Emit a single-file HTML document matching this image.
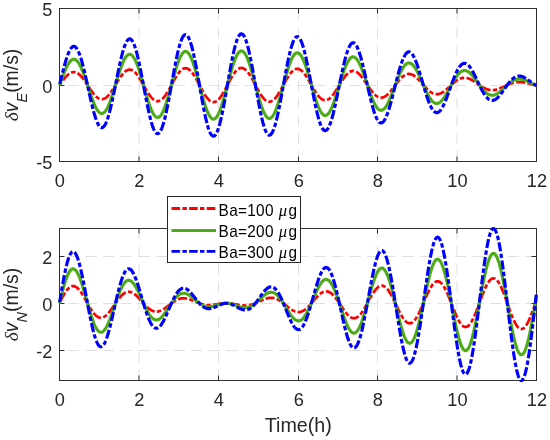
<!DOCTYPE html><html><head><meta charset="utf-8"><style>
html,body{margin:0;padding:0;background:#fff;}
body{width:550px;height:440px;overflow:hidden;}
svg{display:block;}
text{font-family:"Liberation Sans",sans-serif;fill:#262626;}
.tl{font-size:18.2px;}
.yl{font-size:19.4px;}
.xl{font-size:19.7px;}
.lt{font-size:16.2px;fill:#000;}
.it{font-style:italic;}
.gk{font-family:"Liberation Serif",serif;font-style:italic;}
.sub{font-size:0.75em;}
.mu{font-family:"Liberation Serif",serif;font-style:italic;font-size:16.5px;}
.ax{fill:none;stroke:#2e2e2e;stroke-width:1;}
.tk{stroke:#2e2e2e;stroke-width:1;}
.grid{stroke:#e0e0e0;stroke-width:1;stroke-dasharray:11 6.6;}
.cr{fill:none;stroke:#ff0000;stroke-width:2.7;stroke-dasharray:9 2.33 4.37 2.33;stroke-dashoffset:-1.1;}
.cg{fill:none;stroke:#4dac16;stroke-width:3.1;}
.cb{fill:none;stroke:#0000ff;stroke-width:3.15;stroke-dasharray:9 2.33 4.37 2.33;stroke-dashoffset:-1.1;}
.lg{fill:#fff;stroke:#262626;stroke-width:1;}
.lgl{stroke-width:2.9;stroke-dasharray:8.6 2.3 4.4 2.3;stroke-dashoffset:0;}
.cg.lgl{stroke-dasharray:none;}
</style></head><body>
<svg width="550" height="440" viewBox="0 0 550 440">
<defs><clipPath id="c1"><rect x="56.5" y="8.5" width="483.0" height="153.0"/></clipPath><clipPath id="c2"><rect x="56.5" y="226.5" width="483.0" height="156.0"/></clipPath></defs>
<line x1="139.00" y1="161.50" x2="139.00" y2="8.50" class="grid gv"/>
<line x1="218.50" y1="161.50" x2="218.50" y2="8.50" class="grid gv"/>
<line x1="298.50" y1="161.50" x2="298.50" y2="8.50" class="grid gv"/>
<line x1="377.50" y1="161.50" x2="377.50" y2="8.50" class="grid gv"/>
<line x1="457.00" y1="161.50" x2="457.00" y2="8.50" class="grid gv"/>
<line x1="536.50" y1="85.50" x2="59.50" y2="85.50" class="grid gh"/>
<rect x="59.50" y="8.50" width="477.00" height="153.00" class="ax"/>
<line x1="59.50" y1="161.50" x2="59.50" y2="156.50" class="tk"/>
<line x1="59.50" y1="8.50" x2="59.50" y2="13.50" class="tk"/>
<text x="59.90" y="187.30" class="tl" text-anchor="middle">0</text>
<line x1="139.00" y1="161.50" x2="139.00" y2="156.50" class="tk"/>
<line x1="139.00" y1="8.50" x2="139.00" y2="13.50" class="tk"/>
<text x="139.40" y="187.30" class="tl" text-anchor="middle">2</text>
<line x1="218.50" y1="161.50" x2="218.50" y2="156.50" class="tk"/>
<line x1="218.50" y1="8.50" x2="218.50" y2="13.50" class="tk"/>
<text x="218.90" y="187.30" class="tl" text-anchor="middle">4</text>
<line x1="298.50" y1="161.50" x2="298.50" y2="156.50" class="tk"/>
<line x1="298.50" y1="8.50" x2="298.50" y2="13.50" class="tk"/>
<text x="298.90" y="187.30" class="tl" text-anchor="middle">6</text>
<line x1="377.50" y1="161.50" x2="377.50" y2="156.50" class="tk"/>
<line x1="377.50" y1="8.50" x2="377.50" y2="13.50" class="tk"/>
<text x="377.90" y="187.30" class="tl" text-anchor="middle">8</text>
<line x1="457.00" y1="161.50" x2="457.00" y2="156.50" class="tk"/>
<line x1="457.00" y1="8.50" x2="457.00" y2="13.50" class="tk"/>
<text x="457.40" y="187.30" class="tl" text-anchor="middle">10</text>
<line x1="536.50" y1="161.50" x2="536.50" y2="156.50" class="tk"/>
<line x1="536.50" y1="8.50" x2="536.50" y2="13.50" class="tk"/>
<text x="536.90" y="187.30" class="tl" text-anchor="middle">12</text>
<line x1="59.50" y1="8.50" x2="64.50" y2="8.50" class="tk"/>
<line x1="536.50" y1="8.50" x2="531.50" y2="8.50" class="tk"/>
<text x="52.30" y="15.80" class="tl" text-anchor="end">5</text>
<line x1="59.50" y1="85.50" x2="64.50" y2="85.50" class="tk"/>
<line x1="536.50" y1="85.50" x2="531.50" y2="85.50" class="tk"/>
<text x="52.30" y="92.80" class="tl" text-anchor="end">0</text>
<line x1="59.50" y1="161.50" x2="64.50" y2="161.50" class="tk"/>
<line x1="536.50" y1="161.50" x2="531.50" y2="161.50" class="tk"/>
<text x="52.30" y="168.80" class="tl" text-anchor="end">-5</text>
<g clip-path="url(#c1)"><g transform="scale(1 1.0160)">
<path d="M59.50 83.66L59.90 83.13L60.30 82.60L60.69 82.07L61.09 81.53L61.49 81.01L61.88 80.48L62.28 79.96L62.68 79.44L63.08 78.93L63.48 78.43L63.87 77.94L64.27 77.46L64.67 76.99L65.06 76.53L65.46 76.08L65.86 75.64L66.26 75.22L66.66 74.82L67.05 74.43L67.45 74.06L67.85 73.71L68.25 73.37L68.64 73.06L69.04 72.76L69.44 72.49L69.84 72.24L70.23 72.01L70.63 71.80L71.03 71.61L71.42 71.45L71.82 71.32L72.22 71.20L72.62 71.11L73.02 71.05L73.41 71.01L73.81 71.00L74.21 71.01L74.61 71.05L75.00 71.11L75.40 71.20L75.80 71.31L76.19 71.45L76.59 71.61L76.99 71.80L77.39 72.01L77.78 72.25L78.18 72.51L78.58 72.79L78.98 73.10L79.38 73.43L79.77 73.77L80.17 74.14L80.57 74.54L80.97 74.94L81.36 75.37L81.76 75.82L82.16 76.28L82.55 76.76L82.95 77.26L83.35 77.77L83.75 78.29L84.14 78.82L84.54 79.37L84.94 79.93L85.34 80.49L85.73 81.07L86.13 81.65L86.53 82.23L86.93 82.82L87.33 83.42L87.72 84.01L88.12 84.61L88.52 85.21L88.92 85.80L89.31 86.40L89.71 86.99L90.11 87.57L90.50 88.15L90.90 88.72L91.30 89.28L91.70 89.83L92.09 90.37L92.49 90.90L92.89 91.42L93.29 91.92L93.69 92.41L94.08 92.88L94.48 93.34L94.88 93.77L95.28 94.19L95.67 94.59L96.07 94.96L96.47 95.32L96.87 95.65L97.26 95.96L97.66 96.24L98.06 96.50L98.45 96.74L98.85 96.95L99.25 97.14L99.65 97.29L100.05 97.42L100.44 97.53L100.84 97.60L101.24 97.65L101.63 97.67L102.03 97.67L102.43 97.63L102.83 97.57L103.22 97.48L103.62 97.36L104.02 97.21L104.42 97.04L104.81 96.84L105.21 96.61L105.61 96.35L106.01 96.07L106.41 95.77L106.80 95.43L107.20 95.08L107.60 94.70L108.00 94.30L108.39 93.87L108.79 93.43L109.19 92.96L109.59 92.48L109.98 91.97L110.38 91.45L110.78 90.91L111.18 90.36L111.57 89.79L111.97 89.20L112.37 88.61L112.77 88.00L113.16 87.39L113.56 86.76L113.96 86.13L114.35 85.49L114.75 84.84L115.15 84.20L115.55 83.55L115.94 82.89L116.34 82.24L116.74 81.59L117.14 80.94L117.53 80.30L117.93 79.66L118.33 79.03L118.73 78.41L119.12 77.79L119.52 77.19L119.92 76.60L120.32 76.02L120.72 75.45L121.11 74.90L121.51 74.37L121.91 73.85L122.31 73.36L122.70 72.88L123.10 72.42L123.50 71.99L123.89 71.57L124.29 71.18L124.69 70.82L125.09 70.48L125.48 70.16L125.88 69.87L126.28 69.61L126.68 69.38L127.08 69.17L127.47 68.99L127.87 68.85L128.27 68.73L128.67 68.64L129.06 68.58L129.46 68.55L129.86 68.55L130.25 68.58L130.65 68.64L131.05 68.73L131.45 68.85L131.84 69.00L132.24 69.18L132.64 69.39L133.04 69.63L133.44 69.90L133.83 70.19L134.23 70.51L134.63 70.86L135.02 71.24L135.42 71.64L135.82 72.06L136.22 72.51L136.62 72.98L137.01 73.48L137.41 73.99L137.81 74.53L138.20 75.08L138.60 75.66L139.00 76.25L139.40 76.85L139.80 77.47L140.19 78.11L140.59 78.75L140.99 79.41L141.38 80.07L141.78 80.75L142.18 81.43L142.58 82.12L142.98 82.81L143.37 83.50L143.77 84.20L144.17 84.89L144.56 85.58L144.96 86.27L145.36 86.96L145.76 87.64L146.16 88.32L146.55 88.98L146.95 89.64L147.35 90.28L147.75 90.92L148.14 91.53L148.54 92.14L148.94 92.73L149.33 93.30L149.73 93.85L150.13 94.38L150.53 94.90L150.93 95.39L151.32 95.86L151.72 96.30L152.12 96.72L152.51 97.11L152.91 97.48L153.31 97.82L153.71 98.14L154.11 98.42L154.50 98.68L154.90 98.90L155.30 99.10L155.69 99.26L156.09 99.40L156.49 99.50L156.89 99.57L157.29 99.61L157.68 99.62L158.08 99.60L158.48 99.54L158.88 99.45L159.27 99.33L159.67 99.18L160.07 99.00L160.46 98.79L160.86 98.55L161.26 98.27L161.66 97.97L162.06 97.64L162.45 97.28L162.85 96.89L163.25 96.48L163.64 96.04L164.04 95.57L164.44 95.08L164.84 94.57L165.24 94.03L165.63 93.48L166.03 92.90L166.43 92.31L166.82 91.69L167.22 91.06L167.62 90.42L168.02 89.76L168.42 89.08L168.81 88.40L169.21 87.70L169.61 87.00L170.00 86.29L170.40 85.57L170.80 84.85L171.20 84.13L171.59 83.40L171.99 82.68L172.39 81.95L172.79 81.23L173.19 80.51L173.58 79.80L173.98 79.09L174.38 78.40L174.77 77.71L175.17 77.03L175.57 76.37L175.97 75.72L176.37 75.09L176.76 74.47L177.16 73.87L177.56 73.29L177.95 72.73L178.35 72.19L178.75 71.67L179.15 71.18L179.55 70.71L179.94 70.27L180.34 69.85L180.74 69.46L181.13 69.10L181.53 68.77L181.93 68.46L182.33 68.19L182.73 67.95L183.12 67.74L183.52 67.56L183.92 67.41L184.31 67.29L184.71 67.21L185.11 67.16L185.51 67.14L185.91 67.16L186.30 67.21L186.70 67.29L187.10 67.40L187.50 67.55L187.89 67.73L188.29 67.94L188.69 68.18L189.09 68.45L189.48 68.76L189.88 69.09L190.28 69.45L190.67 69.84L191.07 70.26L191.47 70.71L191.87 71.18L192.26 71.68L192.66 72.20L193.06 72.75L193.46 73.31L193.85 73.90L194.25 74.51L194.65 75.14L195.05 75.78L195.44 76.44L195.84 77.12L196.24 77.80L196.64 78.50L197.03 79.21L197.43 79.93L197.83 80.66L198.23 81.40L198.62 82.13L199.02 82.88L199.42 83.62L199.82 84.37L200.22 85.11L200.61 85.85L201.01 86.59L201.41 87.32L201.81 88.04L202.20 88.76L202.60 89.47L203.00 90.16L203.40 90.84L203.79 91.51L204.19 92.17L204.59 92.80L204.99 93.42L205.38 94.02L205.78 94.60L206.18 95.15L206.58 95.69L206.97 96.20L207.37 96.68L207.77 97.14L208.16 97.58L208.56 97.98L208.96 98.36L209.36 98.71L209.75 99.02L210.15 99.31L210.55 99.57L210.95 99.79L211.34 99.98L211.74 100.14L212.14 100.27L212.54 100.36L212.94 100.43L213.33 100.45L213.73 100.45L214.13 100.41L214.53 100.33L214.92 100.23L215.32 100.09L215.72 99.92L216.11 99.71L216.51 99.47L216.91 99.21L217.31 98.91L217.71 98.58L218.10 98.22L218.50 97.83L218.90 97.41L219.29 96.97L219.69 96.50L220.09 96.00L220.49 95.48L220.88 94.93L221.28 94.37L221.68 93.78L222.08 93.17L222.47 92.54L222.87 91.89L223.27 91.23L223.67 90.55L224.06 89.86L224.46 89.16L224.86 88.45L225.26 87.72L225.66 86.99L226.05 86.25L226.45 85.51L226.85 84.76L227.24 84.01L227.64 83.26L228.04 82.51L228.44 81.76L228.84 81.02L229.23 80.28L229.63 79.55L230.03 78.83L230.42 78.11L230.82 77.41L231.22 76.72L231.62 76.05L232.01 75.39L232.41 74.74L232.81 74.12L233.21 73.51L233.60 72.92L234.00 72.36L234.40 71.81L234.80 71.30L235.20 70.80L235.59 70.33L235.99 69.89L236.39 69.48L236.78 69.09L237.18 68.73L237.58 68.41L237.98 68.11L238.38 67.85L238.77 67.61L239.17 67.41L239.57 67.24L239.97 67.11L240.36 67.00L240.76 66.93L241.16 66.90L241.55 66.89L241.95 66.92L242.35 66.99L242.75 67.08L243.15 67.21L243.54 67.37L243.94 67.57L244.34 67.80L244.74 68.06L245.13 68.34L245.53 68.66L245.93 69.01L246.33 69.39L246.72 69.80L247.12 70.24L247.52 70.70L247.91 71.18L248.31 71.69L248.71 72.23L249.11 72.79L249.50 73.37L249.90 73.97L250.30 74.59L250.70 75.22L251.10 75.87L251.49 76.54L251.89 77.22L252.29 77.92L252.69 78.62L253.08 79.34L253.48 80.06L253.88 80.79L254.28 81.53L254.67 82.27L255.07 83.01L255.47 83.75L255.87 84.50L256.26 85.24L256.66 85.97L257.06 86.71L257.46 87.43L257.85 88.15L258.25 88.86L258.65 89.55L259.04 90.24L259.44 90.91L259.84 91.57L260.24 92.21L260.63 92.83L261.03 93.43L261.43 94.02L261.83 94.58L262.23 95.12L262.62 95.64L263.02 96.14L263.42 96.60L263.81 97.05L264.21 97.46L264.61 97.85L265.01 98.21L265.40 98.54L265.80 98.84L266.20 99.11L266.60 99.35L267.00 99.55L267.39 99.73L267.79 99.87L268.19 99.98L268.59 100.06L268.98 100.11L269.38 100.12L269.78 100.10L270.17 100.05L270.57 99.96L270.97 99.84L271.37 99.69L271.76 99.51L272.16 99.30L272.56 99.05L272.96 98.78L273.36 98.47L273.75 98.14L274.15 97.77L274.55 97.38L274.95 96.97L275.34 96.52L275.74 96.05L276.14 95.56L276.53 95.04L276.93 94.51L277.33 93.95L277.73 93.37L278.12 92.77L278.52 92.15L278.92 91.52L279.32 90.87L279.72 90.21L280.11 89.54L280.51 88.85L280.91 88.16L281.30 87.45L281.70 86.75L282.10 86.03L282.50 85.31L282.89 84.59L283.29 83.87L283.69 83.15L284.09 82.43L284.49 81.71L284.88 81.00L285.28 80.29L285.68 79.59L286.08 78.90L286.47 78.22L286.87 77.55L287.27 76.90L287.66 76.26L288.06 75.63L288.46 75.02L288.86 74.43L289.25 73.86L289.65 73.31L290.05 72.78L290.45 72.27L290.85 71.79L291.24 71.32L291.64 70.89L292.04 70.48L292.44 70.10L292.83 69.74L293.23 69.42L293.63 69.12L294.02 68.85L294.42 68.61L294.82 68.40L295.22 68.23L295.62 68.08L296.01 67.96L296.41 67.88L296.81 67.83L297.21 67.81L297.60 67.82L298.00 67.86L298.40 67.93L298.79 68.04L299.19 68.17L299.59 68.34L299.99 68.54L300.38 68.77L300.78 69.02L301.18 69.31L301.58 69.62L301.98 69.96L302.37 70.33L302.77 70.72L303.17 71.14L303.56 71.59L303.96 72.05L304.36 72.54L304.76 73.05L305.15 73.58L305.55 74.13L305.95 74.70L306.35 75.29L306.75 75.89L307.14 76.51L307.54 77.14L307.94 77.78L308.34 78.43L308.73 79.09L309.13 79.76L309.53 80.44L309.92 81.12L310.32 81.80L310.72 82.49L311.12 83.18L311.51 83.87L311.91 84.56L312.31 85.24L312.71 85.92L313.11 86.60L313.50 87.27L313.90 87.93L314.30 88.58L314.70 89.22L315.09 89.84L315.49 90.46L315.89 91.06L316.29 91.64L316.68 92.21L317.08 92.75L317.48 93.28L317.88 93.79L318.27 94.28L318.67 94.75L319.07 95.19L319.46 95.61L319.86 96.00L320.26 96.37L320.66 96.72L321.06 97.03L321.45 97.32L321.85 97.59L322.25 97.82L322.65 98.02L323.04 98.20L323.44 98.35L323.84 98.46L324.24 98.55L324.63 98.61L325.03 98.64L325.43 98.63L325.82 98.60L326.22 98.54L326.62 98.45L327.02 98.33L327.42 98.18L327.81 98.00L328.21 97.79L328.61 97.56L329.00 97.29L329.40 97.01L329.80 96.69L330.20 96.35L330.60 95.99L330.99 95.60L331.39 95.19L331.79 94.76L332.19 94.30L332.58 93.83L332.98 93.33L333.38 92.82L333.78 92.29L334.17 91.74L334.57 91.18L334.97 90.61L335.37 90.02L335.76 89.42L336.16 88.81L336.56 88.20L336.95 87.57L337.35 86.94L337.75 86.30L338.15 85.66L338.55 85.02L338.94 84.37L339.34 83.73L339.74 83.09L340.13 82.45L340.53 81.81L340.93 81.18L341.33 80.55L341.72 79.93L342.12 79.33L342.52 78.73L342.92 78.14L343.31 77.57L343.71 77.00L344.11 76.46L344.51 75.93L344.90 75.41L345.30 74.91L345.70 74.44L346.10 73.98L346.50 73.54L346.89 73.12L347.29 72.73L347.69 72.35L348.08 72.01L348.48 71.68L348.88 71.38L349.28 71.11L349.68 70.86L350.07 70.63L350.47 70.44L350.87 70.27L351.26 70.13L351.66 70.01L352.06 69.92L352.46 69.86L352.85 69.83L353.25 69.83L353.65 69.85L354.05 69.90L354.44 69.98L354.84 70.08L355.24 70.22L355.64 70.37L356.04 70.56L356.43 70.77L356.83 71.00L357.23 71.26L357.62 71.55L358.02 71.86L358.42 72.19L358.82 72.54L359.21 72.91L359.61 73.30L360.01 73.72L360.41 74.15L360.81 74.60L361.20 75.07L361.60 75.55L362.00 76.05L362.40 76.56L362.79 77.08L363.19 77.62L363.59 78.16L363.99 78.72L364.38 79.28L364.78 79.85L365.18 80.43L365.57 81.01L365.97 81.59L366.37 82.18L366.77 82.77L367.17 83.36L367.56 83.94L367.96 84.53L368.36 85.11L368.75 85.69L369.15 86.26L369.55 86.82L369.95 87.38L370.35 87.93L370.74 88.46L371.14 88.99L371.54 89.50L371.94 90.00L372.33 90.49L372.73 90.96L373.13 91.41L373.53 91.85L373.92 92.27L374.32 92.67L374.72 93.06L375.12 93.42L375.51 93.76L375.91 94.08L376.31 94.38L376.70 94.66L377.10 94.91L377.50 95.14L377.90 95.35L378.30 95.53L378.69 95.69L379.09 95.82L379.49 95.93L379.89 96.01L380.28 96.07L380.68 96.11L381.08 96.11L381.47 96.10L381.87 96.06L382.27 95.99L382.67 95.90L383.06 95.79L383.46 95.65L383.86 95.49L384.26 95.31L384.65 95.10L385.05 94.87L385.45 94.62L385.85 94.35L386.25 94.06L386.64 93.75L387.04 93.42L387.44 93.07L387.83 92.70L388.23 92.32L388.63 91.92L389.03 91.51L389.43 91.08L389.82 90.64L390.22 90.18L390.62 89.72L391.01 89.24L391.41 88.76L391.81 88.27L392.21 87.77L392.61 87.26L393.00 86.75L393.40 86.23L393.80 85.71L394.19 85.19L394.59 84.67L394.99 84.15L395.39 83.62L395.79 83.10L396.18 82.59L396.58 82.08L396.98 81.57L397.38 81.07L397.77 80.58L398.17 80.09L398.57 79.61L398.96 79.15L399.36 78.69L399.76 78.25L400.16 77.82L400.56 77.40L400.95 77.00L401.35 76.61L401.75 76.24L402.14 75.88L402.54 75.54L402.94 75.22L403.34 74.92L403.73 74.63L404.13 74.37L404.53 74.12L404.93 73.90L405.32 73.69L405.72 73.51L406.12 73.34L406.52 73.20L406.92 73.08L407.31 72.98L407.71 72.91L408.11 72.85L408.50 72.82L408.90 72.81L409.30 72.82L409.70 72.85L410.10 72.90L410.49 72.98L410.89 73.07L411.29 73.19L411.68 73.33L412.08 73.49L412.48 73.66L412.88 73.86L413.28 74.07L413.67 74.31L414.07 74.56L414.47 74.82L414.87 75.11L415.26 75.41L415.66 75.72L416.06 76.05L416.45 76.39L416.85 76.75L417.25 77.12L417.65 77.50L418.05 77.89L418.44 78.29L418.84 78.69L419.24 79.11L419.63 79.53L420.03 79.96L420.43 80.40L420.83 80.84L421.22 81.28L421.62 81.72L422.02 82.17L422.42 82.62L422.82 83.06L423.21 83.51L423.61 83.95L424.01 84.40L424.40 84.83L424.80 85.27L425.20 85.69L425.60 86.12L426.00 86.53L426.39 86.94L426.79 87.33L427.19 87.72L427.58 88.10L427.98 88.47L428.38 88.82L428.78 89.17L429.18 89.50L429.57 89.81L429.97 90.12L430.37 90.40L430.77 90.68L431.16 90.93L431.56 91.18L431.96 91.40L432.36 91.61L432.75 91.80L433.15 91.97L433.55 92.13L433.94 92.27L434.34 92.39L434.74 92.49L435.14 92.58L435.54 92.64L435.93 92.69L436.33 92.72L436.73 92.73L437.12 92.72L437.52 92.69L437.92 92.65L438.32 92.59L438.71 92.51L439.11 92.41L439.51 92.30L439.91 92.17L440.31 92.02L440.70 91.86L441.10 91.68L441.50 91.49L441.89 91.28L442.29 91.06L442.69 90.83L443.09 90.58L443.48 90.32L443.88 90.05L444.28 89.77L444.68 89.47L445.07 89.17L445.47 88.86L445.87 88.54L446.27 88.21L446.67 87.87L447.06 87.53L447.46 87.18L447.86 86.83L448.25 86.48L448.65 86.12L449.05 85.75L449.45 85.39L449.85 85.03L450.24 84.66L450.64 84.30L451.04 83.93L451.43 83.57L451.83 83.21L452.23 82.86L452.63 82.51L453.03 82.16L453.42 81.82L453.82 81.48L454.22 81.15L454.62 80.83L455.01 80.52L455.41 80.22L455.81 79.92L456.20 79.64L456.60 79.36L457.00 79.09L457.40 78.84L457.80 78.60L458.19 78.37L458.59 78.15L458.99 77.95L459.38 77.75L459.78 77.58L460.18 77.41L460.58 77.26L460.97 77.12L461.37 77.00L461.77 76.89L462.17 76.80L462.57 76.72L462.96 76.65L463.36 76.60L463.76 76.57L464.15 76.54L464.55 76.54L464.95 76.55L465.35 76.57L465.75 76.60L466.14 76.66L466.54 76.72L466.94 76.80L467.33 76.89L467.73 76.99L468.13 77.11L468.53 77.24L468.93 77.38L469.32 77.53L469.72 77.69L470.12 77.87L470.52 78.05L470.91 78.24L471.31 78.45L471.71 78.66L472.11 78.88L472.50 79.11L472.90 79.34L473.30 79.58L473.69 79.83L474.09 80.08L474.49 80.34L474.89 80.61L475.29 80.87L475.68 81.14L476.08 81.41L476.48 81.69L476.88 81.96L477.27 82.24L477.67 82.52L478.07 82.80L478.46 83.07L478.86 83.35L479.26 83.62L479.66 83.89L480.06 84.15L480.45 84.42L480.85 84.68L481.25 84.93L481.64 85.18L482.04 85.42L482.44 85.66L482.84 85.89L483.23 86.12L483.63 86.33L484.03 86.54L484.43 86.75L484.82 86.94L485.22 87.12L485.62 87.30L486.02 87.46L486.42 87.62L486.81 87.77L487.21 87.90L487.61 88.03L488.00 88.15L488.40 88.25L488.80 88.35L489.20 88.43L489.60 88.51L489.99 88.57L490.39 88.62L490.79 88.66L491.18 88.69L491.58 88.71L491.98 88.72L492.38 88.72L492.78 88.71L493.17 88.69L493.57 88.66L493.97 88.62L494.37 88.57L494.76 88.50L495.16 88.44L495.56 88.36L495.95 88.27L496.35 88.17L496.75 88.07L497.15 87.96L497.55 87.84L497.94 87.71L498.34 87.58L498.74 87.44L499.13 87.29L499.53 87.14L499.93 86.99L500.33 86.83L500.72 86.66L501.12 86.49L501.52 86.32L501.92 86.14L502.32 85.96L502.71 85.78L503.11 85.60L503.51 85.42L503.90 85.23L504.30 85.05L504.70 84.86L505.10 84.67L505.50 84.49L505.89 84.30L506.29 84.12L506.69 83.94L507.08 83.76L507.48 83.59L507.88 83.41L508.28 83.24L508.68 83.08L509.07 82.91L509.47 82.76L509.87 82.60L510.27 82.45L510.66 82.31L511.06 82.17L511.46 82.04L511.86 81.91L512.25 81.79L512.65 81.67L513.05 81.56L513.44 81.46L513.84 81.36L514.24 81.27L514.64 81.19L515.04 81.11L515.43 81.04L515.83 80.98L516.23 80.92L516.62 80.88L517.02 80.83L517.42 80.80L517.82 80.77L518.21 80.75L518.61 80.74L519.01 80.73L519.41 80.73L519.81 80.73L520.20 80.74L520.60 80.76L521.00 80.79L521.39 80.82L521.79 80.85L522.19 80.89L522.59 80.94L522.98 80.99L523.38 81.04L523.78 81.10L524.18 81.17L524.58 81.24L524.97 81.31L525.37 81.39L525.77 81.47L526.16 81.55L526.56 81.63L526.96 81.72L527.36 81.81L527.75 81.90L528.15 82.00L528.55 82.09L528.95 82.19L529.35 82.29L529.74 82.38L530.14 82.48L530.54 82.58L530.93 82.68L531.33 82.77L531.73 82.87L532.13 82.96L532.53 83.06L532.92 83.15L533.32 83.24L533.72 83.33L534.12 83.42L534.51 83.50L534.91 83.58L535.31 83.66L535.70 83.74L536.10 83.81L536.50 83.88" class="cr" style="stroke-dashoffset:12.4"/>
<path d="M59.50 83.66L59.90 82.60L60.30 81.53L60.69 80.47L61.09 79.41L61.49 78.35L61.88 77.30L62.28 76.26L62.68 75.23L63.08 74.21L63.48 73.21L63.87 72.22L64.27 71.25L64.67 70.31L65.06 69.39L65.46 68.49L65.86 67.62L66.26 66.78L66.66 65.98L67.05 65.20L67.45 64.46L67.85 63.75L68.25 63.08L68.64 62.45L69.04 61.86L69.44 61.32L69.84 60.81L70.23 60.35L70.63 59.94L71.03 59.57L71.42 59.24L71.82 58.97L72.22 58.74L72.62 58.57L73.02 58.44L73.41 58.36L73.81 58.33L74.21 58.36L74.61 58.43L75.00 58.56L75.40 58.73L75.80 58.96L76.19 59.24L76.59 59.56L76.99 59.94L77.39 60.36L77.78 60.84L78.18 61.36L78.58 61.92L78.98 62.53L79.38 63.19L79.77 63.89L80.17 64.63L80.57 65.41L80.97 66.23L81.36 67.09L81.76 67.98L82.16 68.91L82.55 69.86L82.95 70.85L83.35 71.87L83.75 72.92L84.14 73.99L84.54 75.08L84.94 76.19L85.34 77.32L85.73 78.47L86.13 79.63L86.53 80.80L86.93 81.98L87.33 83.17L87.72 84.36L88.12 85.56L88.52 86.75L88.92 87.94L89.31 89.13L89.71 90.31L90.11 91.48L90.50 92.63L90.90 93.78L91.30 94.90L91.70 96.00L92.09 97.09L92.49 98.15L92.89 99.18L93.29 100.19L93.69 101.16L94.08 102.10L94.48 103.01L94.88 103.88L95.28 104.72L95.67 105.51L96.07 106.26L96.47 106.97L96.87 107.64L97.26 108.26L97.66 108.83L98.06 109.35L98.45 109.82L98.85 110.24L99.25 110.61L99.65 110.92L100.05 111.19L100.44 111.39L100.84 111.55L101.24 111.64L101.63 111.69L102.03 111.67L102.43 111.60L102.83 111.47L103.22 111.29L103.62 111.05L104.02 110.76L104.42 110.41L104.81 110.01L105.21 109.55L105.61 109.04L106.01 108.48L106.41 107.87L106.80 107.21L107.20 106.50L107.60 105.74L108.00 104.94L108.39 104.09L108.79 103.20L109.19 102.26L109.59 101.29L109.98 100.28L110.38 99.24L110.78 98.16L111.18 97.05L111.57 95.91L111.97 94.75L112.37 93.56L112.77 92.34L113.16 91.11L113.56 89.86L113.96 88.59L114.35 87.31L114.75 86.03L115.15 84.73L115.55 83.43L115.94 82.13L116.34 80.82L116.74 79.52L117.14 78.23L117.53 76.94L117.93 75.66L118.33 74.40L118.73 73.16L119.12 71.93L119.52 70.72L119.92 69.54L120.32 68.38L120.72 67.25L121.11 66.15L121.51 65.08L121.91 64.05L122.31 63.05L122.70 62.10L123.10 61.18L123.50 60.31L123.89 59.49L124.29 58.71L124.69 57.97L125.09 57.29L125.48 56.66L125.88 56.09L126.28 55.56L126.68 55.09L127.08 54.68L127.47 54.33L127.87 54.03L128.27 53.79L128.67 53.61L129.06 53.49L129.46 53.43L129.86 53.43L130.25 53.50L130.65 53.62L131.05 53.80L131.45 54.04L131.84 54.34L132.24 54.70L132.64 55.12L133.04 55.60L133.44 56.13L133.83 56.72L134.23 57.36L134.63 58.06L135.02 58.81L135.42 59.61L135.82 60.46L136.22 61.36L136.62 62.31L137.01 63.30L137.41 64.33L137.81 65.40L138.20 66.51L138.60 67.65L139.00 68.83L139.40 70.04L139.80 71.28L140.19 72.55L140.59 73.84L140.99 75.16L141.38 76.49L141.78 77.84L142.18 79.20L142.58 80.57L142.98 81.95L143.37 83.34L143.77 84.73L144.17 86.12L144.56 87.51L144.96 88.89L145.36 90.26L145.76 91.62L146.16 92.97L146.55 94.30L146.95 95.61L147.35 96.90L147.75 98.17L148.14 99.41L148.54 100.62L148.94 101.79L149.33 102.94L149.73 104.04L150.13 105.11L150.53 106.13L150.93 107.11L151.32 108.05L151.72 108.94L152.12 109.78L152.51 110.57L152.91 111.30L153.31 111.98L153.71 112.61L154.11 113.18L154.50 113.69L154.90 114.14L155.30 114.53L155.69 114.86L156.09 115.13L156.49 115.34L156.89 115.48L157.29 115.56L157.68 115.58L158.08 115.53L158.48 115.42L158.88 115.24L159.27 115.00L159.67 114.70L160.07 114.34L160.46 113.92L160.86 113.43L161.26 112.88L161.66 112.28L162.06 111.62L162.45 110.90L162.85 110.12L163.25 109.29L163.64 108.41L164.04 107.48L164.44 106.50L164.84 105.48L165.24 104.41L165.63 103.30L166.03 102.14L166.43 100.95L166.82 99.72L167.22 98.46L167.62 97.17L168.02 95.85L168.42 94.50L168.81 93.14L169.21 91.75L169.61 90.34L170.00 88.92L170.40 87.49L170.80 86.04L171.20 84.59L171.59 83.14L171.99 81.69L172.39 80.24L172.79 78.80L173.19 77.36L173.58 75.94L173.98 74.52L174.38 73.13L174.77 71.76L175.17 70.41L175.57 69.08L175.97 67.78L176.37 66.51L176.76 65.28L177.16 64.08L177.56 62.92L177.95 61.80L178.35 60.72L178.75 59.68L179.15 58.70L179.55 57.76L179.94 56.87L180.34 56.04L180.74 55.26L181.13 54.54L181.53 53.87L181.93 53.26L182.33 52.72L182.73 52.23L183.12 51.81L183.52 51.45L183.92 51.15L184.31 50.92L184.71 50.76L185.11 50.66L185.51 50.62L185.91 50.65L186.30 50.75L186.70 50.91L187.10 51.14L187.50 51.43L187.89 51.79L188.29 52.21L188.69 52.70L189.09 53.24L189.48 53.85L189.88 54.52L190.28 55.24L190.67 56.03L191.07 56.87L191.47 57.76L191.87 58.70L192.26 59.70L192.66 60.74L193.06 61.83L193.46 62.97L193.85 64.14L194.25 65.36L194.65 66.61L195.05 67.90L195.44 69.22L195.84 70.57L196.24 71.94L196.64 73.35L197.03 74.77L197.43 76.21L197.83 77.66L198.23 79.13L198.62 80.61L199.02 82.09L199.42 83.58L199.82 85.07L200.22 86.56L200.61 88.04L201.01 89.52L201.41 90.98L201.81 92.43L202.20 93.86L202.60 95.27L203.00 96.66L203.40 98.03L203.79 99.36L204.19 100.67L204.59 101.94L204.99 103.18L205.38 104.38L205.78 105.53L206.18 106.65L206.58 107.71L206.97 108.74L207.37 109.71L207.77 110.63L208.16 111.49L208.56 112.30L208.96 113.06L209.36 113.75L209.75 114.39L210.15 114.96L210.55 115.47L210.95 115.92L211.34 116.31L211.74 116.63L212.14 116.88L212.54 117.07L212.94 117.19L213.33 117.24L213.73 117.23L214.13 117.15L214.53 117.01L214.92 116.79L215.32 116.51L215.72 116.17L216.11 115.76L216.51 115.29L216.91 114.75L217.31 114.15L217.71 113.49L218.10 112.77L218.50 112.00L218.90 111.16L219.29 110.27L219.69 109.33L220.09 108.34L220.49 107.29L220.88 106.20L221.28 105.07L221.68 103.89L222.08 102.67L222.47 101.42L222.87 100.13L223.27 98.80L223.67 97.45L224.06 96.07L224.46 94.66L224.86 93.23L225.26 91.78L225.66 90.32L226.05 88.84L226.45 87.35L226.85 85.86L227.24 84.36L227.64 82.86L228.04 81.36L228.44 79.86L228.84 78.38L229.23 76.90L229.63 75.44L230.03 73.99L230.42 72.57L230.82 71.16L231.22 69.78L231.62 68.43L232.01 67.11L232.41 65.82L232.81 64.57L233.21 63.35L233.60 62.18L234.00 61.05L234.40 59.97L234.80 58.93L235.20 57.94L235.59 57.00L235.99 56.12L236.39 55.29L236.78 54.52L237.18 53.81L237.58 53.15L237.98 52.56L238.38 52.03L238.77 51.56L239.17 51.16L239.57 50.82L239.97 50.55L240.36 50.34L240.76 50.20L241.16 50.13L241.55 50.12L241.95 50.18L242.35 50.31L242.75 50.50L243.15 50.76L243.54 51.09L243.94 51.48L244.34 51.93L244.74 52.45L245.13 53.03L245.53 53.67L245.93 54.37L246.33 55.13L246.72 55.94L247.12 56.81L247.52 57.73L247.91 58.71L248.31 59.73L248.71 60.80L249.11 61.91L249.50 63.07L249.90 64.27L250.30 65.51L250.70 66.78L251.10 68.09L251.49 69.42L251.89 70.79L252.29 72.18L252.69 73.59L253.08 75.02L253.48 76.47L253.88 77.93L254.28 79.40L254.67 80.88L255.07 82.36L255.47 83.85L255.87 85.33L256.26 86.81L256.66 88.29L257.06 89.75L257.46 91.20L257.85 92.63L258.25 94.05L258.65 95.44L259.04 96.81L259.44 98.16L259.84 99.47L260.24 100.75L260.63 102.00L261.03 103.21L261.43 104.38L261.83 105.50L262.23 106.58L262.62 107.62L263.02 108.61L263.42 109.55L263.81 110.43L264.21 111.26L264.61 112.04L265.01 112.76L265.40 113.42L265.80 114.02L266.20 114.56L266.60 115.03L267.00 115.45L267.39 115.80L267.79 116.08L268.19 116.30L268.59 116.46L268.98 116.55L269.38 116.58L269.78 116.54L270.17 116.43L270.57 116.26L270.97 116.02L271.37 115.72L271.76 115.36L272.16 114.93L272.56 114.44L272.96 113.89L273.36 113.28L273.75 112.61L274.15 111.89L274.55 111.11L274.95 110.27L275.34 109.38L275.74 108.45L276.14 107.46L276.53 106.43L276.93 105.35L277.33 104.23L277.73 103.07L278.12 101.87L278.52 100.64L278.92 99.38L279.32 98.08L279.72 96.76L280.11 95.41L280.51 94.04L280.91 92.65L281.30 91.25L281.70 89.83L282.10 88.40L282.50 86.96L282.89 85.52L283.29 84.07L283.69 82.63L284.09 81.19L284.49 79.75L284.88 78.33L285.28 76.92L285.68 75.52L286.08 74.14L286.47 72.78L286.87 71.44L287.27 70.13L287.66 68.85L288.06 67.60L288.46 66.38L288.86 65.20L289.25 64.06L289.65 62.95L290.05 61.89L290.45 60.88L290.85 59.91L291.24 58.99L291.64 58.12L292.04 57.30L292.44 56.53L292.83 55.83L293.23 55.17L293.63 54.58L294.02 54.04L294.42 53.56L294.82 53.14L295.22 52.79L295.62 52.50L296.01 52.27L296.41 52.10L296.81 51.99L297.21 51.95L297.60 51.97L298.00 52.06L298.40 52.21L298.79 52.42L299.19 52.69L299.59 53.02L299.99 53.42L300.38 53.87L300.78 54.38L301.18 54.95L301.58 55.58L301.98 56.26L302.37 57.00L302.77 57.78L303.17 58.62L303.56 59.51L303.96 60.44L304.36 61.42L304.76 62.44L305.15 63.51L305.55 64.61L305.95 65.74L306.35 66.92L306.75 68.12L307.14 69.35L307.54 70.61L307.94 71.89L308.34 73.20L308.73 74.52L309.13 75.86L309.53 77.21L309.92 78.57L310.32 79.95L310.72 81.32L311.12 82.70L311.51 84.08L311.91 85.46L312.31 86.83L312.71 88.19L313.11 89.54L313.50 90.87L313.90 92.19L314.30 93.49L314.70 94.77L315.09 96.03L315.49 97.25L315.89 98.45L316.29 99.62L316.68 100.75L317.08 101.85L317.48 102.91L317.88 103.92L318.27 104.90L318.67 105.83L319.07 106.72L319.46 107.56L319.86 108.35L320.26 109.09L320.66 109.77L321.06 110.41L321.45 110.99L321.85 111.51L322.25 111.98L322.65 112.39L323.04 112.74L323.44 113.03L323.84 113.26L324.24 113.44L324.63 113.55L325.03 113.61L325.43 113.60L325.82 113.54L326.22 113.42L326.62 113.23L327.02 112.99L327.42 112.69L327.81 112.33L328.21 111.92L328.61 111.45L329.00 110.93L329.40 110.35L329.80 109.72L330.20 109.04L330.60 108.31L330.99 107.54L331.39 106.72L331.79 105.85L332.19 104.94L332.58 103.99L332.98 103.00L333.38 101.98L333.78 100.92L334.17 99.83L334.57 98.71L334.97 97.56L335.37 96.38L335.76 95.19L336.16 93.97L336.56 92.73L336.95 91.48L337.35 90.22L337.75 88.95L338.15 87.66L338.55 86.38L338.94 85.09L339.34 83.80L339.74 82.51L340.13 81.23L340.53 79.96L340.93 78.69L341.33 77.44L341.72 76.21L342.12 74.99L342.52 73.79L342.92 72.62L343.31 71.47L343.71 70.35L344.11 69.25L344.51 68.19L344.90 67.16L345.30 66.17L345.70 65.21L346.10 64.29L346.50 63.42L346.89 62.58L347.29 61.79L347.69 61.05L348.08 60.35L348.48 59.70L348.88 59.10L349.28 58.55L349.68 58.05L350.07 57.61L350.47 57.21L350.87 56.88L351.26 56.59L351.66 56.36L352.06 56.19L352.46 56.07L352.85 56.00L353.25 55.99L353.65 56.04L354.05 56.14L354.44 56.30L354.84 56.51L355.24 56.77L355.64 57.09L356.04 57.46L356.43 57.88L356.83 58.35L357.23 58.87L357.62 59.44L358.02 60.05L358.42 60.71L358.82 61.41L359.21 62.16L359.61 62.95L360.01 63.77L360.41 64.64L360.81 65.54L361.20 66.47L361.60 67.43L362.00 68.43L362.40 69.45L362.79 70.50L363.19 71.57L363.59 72.66L363.99 73.77L364.38 74.90L364.78 76.04L365.18 77.19L365.57 78.35L365.97 79.52L366.37 80.70L366.77 81.88L367.17 83.05L367.56 84.23L367.96 85.40L368.36 86.56L368.75 87.72L369.15 88.86L369.55 89.99L369.95 91.10L370.35 92.19L370.74 93.27L371.14 94.32L371.54 95.34L371.94 96.34L372.33 97.32L372.73 98.26L373.13 99.17L373.53 100.04L373.92 100.88L374.32 101.69L374.72 102.45L375.12 103.18L375.51 103.86L375.91 104.50L376.31 105.10L376.70 105.65L377.10 106.16L377.50 106.62L377.90 107.03L378.30 107.39L378.69 107.71L379.09 107.98L379.49 108.19L379.89 108.36L380.28 108.48L380.68 108.55L381.08 108.57L381.47 108.54L381.87 108.45L382.27 108.32L382.67 108.15L383.06 107.92L383.46 107.64L383.86 107.32L384.26 106.95L384.65 106.54L385.05 106.08L385.45 105.58L385.85 105.04L386.25 104.46L386.64 103.83L387.04 103.17L387.44 102.47L387.83 101.74L388.23 100.98L388.63 100.18L389.03 99.35L389.43 98.49L389.82 97.61L390.22 96.71L390.62 95.78L391.01 94.82L391.41 93.86L391.81 92.87L392.21 91.87L392.61 90.86L393.00 89.83L393.40 88.80L393.80 87.76L394.19 86.72L394.59 85.67L394.99 84.63L395.39 83.59L395.79 82.55L396.18 81.52L396.58 80.49L396.98 79.48L397.38 78.48L397.77 77.49L398.17 76.52L398.57 75.57L398.96 74.64L399.36 73.73L399.76 72.84L400.16 71.98L400.56 71.14L400.95 70.34L401.35 69.56L401.75 68.81L402.14 68.10L402.54 67.42L402.94 66.78L403.34 66.17L403.73 65.60L404.13 65.07L404.53 64.58L404.93 64.13L405.32 63.72L405.72 63.35L406.12 63.03L406.52 62.74L406.92 62.50L407.31 62.31L407.71 62.15L408.11 62.04L408.50 61.98L408.90 61.95L409.30 61.97L409.70 62.04L410.10 62.15L410.49 62.30L410.89 62.49L411.29 62.72L411.68 63.00L412.08 63.31L412.48 63.66L412.88 64.05L413.28 64.48L413.67 64.95L414.07 65.45L414.47 65.98L414.87 66.55L415.26 67.15L415.66 67.78L416.06 68.44L416.45 69.13L416.85 69.84L417.25 70.57L417.65 71.33L418.05 72.11L418.44 72.91L418.84 73.73L419.24 74.56L419.63 75.40L420.03 76.26L420.43 77.13L420.83 78.01L421.22 78.89L421.62 79.78L422.02 80.68L422.42 81.57L422.82 82.47L423.21 83.36L423.61 84.25L424.01 85.13L424.40 86.01L424.80 86.87L425.20 87.73L425.60 88.57L426.00 89.40L426.39 90.21L426.79 91.01L427.19 91.78L427.58 92.54L427.98 93.27L428.38 93.98L428.78 94.67L429.18 95.33L429.57 95.96L429.97 96.57L430.37 97.15L430.77 97.69L431.16 98.21L431.56 98.69L431.96 99.14L432.36 99.56L432.75 99.94L433.15 100.29L433.55 100.60L433.94 100.88L434.34 101.12L434.74 101.32L435.14 101.49L435.54 101.62L435.93 101.72L436.33 101.77L436.73 101.79L437.12 101.78L437.52 101.73L437.92 101.64L438.32 101.52L438.71 101.36L439.11 101.16L439.51 100.94L439.91 100.68L440.31 100.38L440.70 100.06L441.10 99.70L441.50 99.32L441.89 98.91L442.29 98.46L442.69 97.99L443.09 97.50L443.48 96.98L443.88 96.43L444.28 95.87L444.68 95.28L445.07 94.68L445.47 94.05L445.87 93.41L446.27 92.75L446.67 92.08L447.06 91.40L447.46 90.71L447.86 90.00L448.25 89.29L448.65 88.57L449.05 87.85L449.45 87.12L449.85 86.39L450.24 85.66L450.64 84.93L451.04 84.20L451.43 83.48L451.83 82.76L452.23 82.05L452.63 81.35L453.03 80.66L453.42 79.97L453.82 79.30L454.22 78.65L454.62 78.01L455.01 77.38L455.41 76.77L455.81 76.18L456.20 75.61L456.60 75.06L457.00 74.53L457.40 74.02L457.80 73.54L458.19 73.08L458.59 72.64L458.99 72.23L459.38 71.85L459.78 71.49L460.18 71.16L460.58 70.86L460.97 70.58L461.37 70.34L461.77 70.12L462.17 69.93L462.57 69.77L462.96 69.64L463.36 69.54L463.76 69.47L464.15 69.43L464.55 69.42L464.95 69.43L465.35 69.48L465.75 69.55L466.14 69.65L466.54 69.78L466.94 69.93L467.33 70.11L467.73 70.32L468.13 70.55L468.53 70.81L468.93 71.09L469.32 71.40L469.72 71.72L470.12 72.07L470.52 72.44L470.91 72.83L471.31 73.23L471.71 73.66L472.11 74.10L472.50 74.55L472.90 75.02L473.30 75.51L473.69 76.00L474.09 76.51L474.49 77.02L474.89 77.55L475.29 78.08L475.68 78.62L476.08 79.17L476.48 79.72L476.88 80.27L477.27 80.82L477.67 81.38L478.07 81.93L478.46 82.48L478.86 83.03L479.26 83.57L479.66 84.11L480.06 84.65L480.45 85.17L480.85 85.69L481.25 86.20L481.64 86.70L482.04 87.19L482.44 87.66L482.84 88.12L483.23 88.57L483.63 89.01L484.03 89.43L484.43 89.83L484.82 90.21L485.22 90.58L485.62 90.93L486.02 91.27L486.42 91.58L486.81 91.87L487.21 92.14L487.61 92.40L488.00 92.63L488.40 92.84L488.80 93.03L489.20 93.20L489.60 93.35L489.99 93.48L490.39 93.58L490.79 93.66L491.18 93.73L491.58 93.77L491.98 93.78L492.38 93.78L492.78 93.76L493.17 93.72L493.57 93.65L493.97 93.57L494.37 93.47L494.76 93.35L495.16 93.21L495.56 93.05L495.95 92.88L496.35 92.68L496.75 92.48L497.15 92.25L497.55 92.02L497.94 91.76L498.34 91.50L498.74 91.22L499.13 90.93L499.53 90.63L499.93 90.31L500.33 89.99L500.72 89.66L501.12 89.32L501.52 88.98L501.92 88.63L502.32 88.27L502.71 87.91L503.11 87.54L503.51 87.17L503.90 86.80L504.30 86.43L504.70 86.06L505.10 85.69L505.50 85.32L505.89 84.95L506.29 84.58L506.69 84.22L507.08 83.86L507.48 83.51L507.88 83.16L508.28 82.82L508.68 82.49L509.07 82.17L509.47 81.85L509.87 81.54L510.27 81.24L510.66 80.95L511.06 80.68L511.46 80.41L511.86 80.15L512.25 79.91L512.65 79.68L513.05 79.46L513.44 79.25L513.84 79.06L514.24 78.88L514.64 78.72L515.04 78.56L515.43 78.42L515.83 78.30L516.23 78.19L516.62 78.09L517.02 78.01L517.42 77.94L517.82 77.88L518.21 77.84L518.61 77.81L519.01 77.80L519.41 77.79L519.81 77.80L520.20 77.83L520.60 77.86L521.00 77.91L521.39 77.97L521.79 78.04L522.19 78.12L522.59 78.21L522.98 78.31L523.38 78.43L523.78 78.55L524.18 78.68L524.58 78.81L524.97 78.96L525.37 79.11L525.77 79.27L526.16 79.44L526.56 79.61L526.96 79.78L527.36 79.96L527.75 80.15L528.15 80.33L528.55 80.52L528.95 80.71L529.35 80.91L529.74 81.10L530.14 81.30L530.54 81.49L530.93 81.69L531.33 81.88L531.73 82.08L532.13 82.27L532.53 82.45L532.92 82.64L533.32 82.82L533.72 83.00L534.12 83.17L534.51 83.34L534.91 83.51L535.31 83.66L535.70 83.82L536.10 83.96L536.50 84.11" class="cg"/>
<path d="M59.50 83.66L59.90 82.07L60.30 80.47L60.69 78.87L61.09 77.28L61.49 75.69L61.88 74.12L62.28 72.55L62.68 71.01L63.08 69.48L63.48 67.98L63.87 66.50L64.27 65.05L64.67 63.63L65.06 62.25L65.46 60.91L65.86 59.61L66.26 58.35L66.66 57.13L67.05 55.97L67.45 54.86L67.85 53.80L68.25 52.79L68.64 51.85L69.04 50.97L69.44 50.14L69.84 49.39L70.23 48.70L70.63 48.07L71.03 47.52L71.42 47.04L71.82 46.62L72.22 46.28L72.62 46.02L73.02 45.83L73.41 45.71L73.81 45.67L74.21 45.71L74.61 45.82L75.00 46.01L75.40 46.27L75.80 46.61L76.19 47.03L76.59 47.52L76.99 48.08L77.39 48.72L77.78 49.42L78.18 50.20L78.58 51.05L78.98 51.97L79.38 52.95L79.77 54.00L80.17 55.11L80.57 56.28L80.97 57.51L81.36 58.80L81.76 60.14L82.16 61.53L82.55 62.97L82.95 64.45L83.35 65.98L83.75 67.55L84.14 69.15L84.54 70.79L84.94 72.46L85.34 74.15L85.73 75.87L86.13 77.62L86.53 79.37L86.93 81.15L87.33 82.93L87.72 84.72L88.12 86.51L88.52 88.30L88.92 90.09L89.31 91.86L89.71 93.63L90.11 95.39L90.50 97.12L90.90 98.83L91.30 100.52L91.70 102.18L92.09 103.80L92.49 105.39L92.89 106.94L93.29 108.45L93.69 109.91L94.08 111.33L94.48 112.69L94.88 114.00L95.28 115.25L95.67 116.44L96.07 117.57L96.47 118.63L96.87 119.63L97.26 120.55L97.66 121.41L98.06 122.19L98.45 122.90L98.85 123.53L99.25 124.08L99.65 124.56L100.05 124.95L100.44 125.26L100.84 125.49L101.24 125.64L101.63 125.70L102.03 125.68L102.43 125.57L102.83 125.38L103.22 125.11L103.62 124.75L104.02 124.31L104.42 123.79L104.81 123.18L105.21 122.50L105.61 121.73L106.01 120.89L106.41 119.97L106.80 118.98L107.20 117.92L107.60 116.78L108.00 115.57L108.39 114.30L108.79 112.96L109.19 111.57L109.59 110.11L109.98 108.59L110.38 107.03L110.78 105.41L111.18 103.75L111.57 102.04L111.97 100.29L112.37 98.50L112.77 96.68L113.16 94.83L113.56 92.96L113.96 91.06L114.35 89.14L114.75 87.21L115.15 85.26L115.55 83.31L115.94 81.36L116.34 79.40L116.74 77.45L117.14 75.51L117.53 73.58L117.93 71.67L118.33 69.77L118.73 67.90L119.12 66.06L119.52 64.25L119.92 62.47L120.32 60.73L120.72 59.04L121.11 57.39L121.51 55.79L121.91 54.24L122.31 52.75L122.70 51.32L123.10 49.94L123.50 48.64L123.89 47.40L124.29 46.23L124.69 45.13L125.09 44.11L125.48 43.16L125.88 42.30L126.28 41.51L126.68 40.81L127.08 40.19L127.47 39.66L127.87 39.21L128.27 38.86L128.67 38.59L129.06 38.41L129.46 38.32L129.86 38.32L130.25 38.41L130.65 38.59L131.05 38.87L131.45 39.23L131.84 39.68L132.24 40.22L132.64 40.85L133.04 41.57L133.44 42.37L133.83 43.25L134.23 44.22L134.63 45.26L135.02 46.39L135.42 47.59L135.82 48.87L136.22 50.21L136.62 51.63L137.01 53.11L137.41 54.66L137.81 56.27L138.20 57.93L138.60 59.65L139.00 61.42L139.40 63.24L139.80 65.10L140.19 67.00L140.59 68.93L140.99 70.90L141.38 72.90L141.78 74.92L142.18 76.97L142.58 79.03L142.98 81.10L143.37 83.18L143.77 85.26L144.17 87.35L144.56 89.43L144.96 91.50L145.36 93.56L145.76 95.60L146.16 97.62L146.55 99.62L146.95 101.59L147.35 103.53L147.75 105.42L148.14 107.28L148.54 109.10L148.94 110.86L149.33 112.57L149.73 114.23L150.13 115.83L150.53 117.37L150.93 118.84L151.32 120.25L151.72 121.58L152.12 122.84L152.51 124.02L152.91 125.12L153.31 126.15L153.71 127.09L154.11 127.94L154.50 128.71L154.90 129.38L155.30 129.97L155.69 130.46L156.09 130.87L156.49 131.18L156.89 131.39L157.29 131.51L157.68 131.53L158.08 131.46L158.48 131.30L158.88 131.03L159.27 130.68L159.67 130.22L160.07 129.68L160.46 129.04L160.86 128.31L161.26 127.49L161.66 126.59L162.06 125.59L162.45 124.51L162.85 123.35L163.25 122.11L163.64 120.79L164.04 119.40L164.44 117.93L164.84 116.39L165.24 114.78L165.63 113.11L166.03 111.38L166.43 109.59L166.82 107.75L167.22 105.86L167.62 103.92L168.02 101.94L168.42 99.93L168.81 97.87L169.21 95.79L169.61 93.68L170.00 91.55L170.40 89.40L170.80 87.23L171.20 85.06L171.59 82.88L171.99 80.70L172.39 78.53L172.79 76.36L173.19 74.21L173.58 72.07L173.98 69.96L174.38 67.87L174.77 65.80L175.17 63.78L175.57 61.79L175.97 59.84L176.37 57.94L176.76 56.09L177.16 54.29L177.56 52.54L177.95 50.86L178.35 49.25L178.75 47.70L179.15 46.22L179.55 44.81L179.94 43.48L180.34 42.23L180.74 41.06L181.13 39.98L181.53 38.98L181.93 38.07L182.33 37.25L182.73 36.52L183.12 35.88L183.52 35.34L183.92 34.90L184.31 34.55L184.71 34.30L185.11 34.15L185.51 34.10L185.91 34.15L186.30 34.29L186.70 34.54L187.10 34.88L187.50 35.32L187.89 35.86L188.29 36.49L188.69 37.21L189.09 38.03L189.48 38.95L189.88 39.95L190.28 41.04L190.67 42.21L191.07 43.47L191.47 44.81L191.87 46.23L192.26 47.72L192.66 49.28L193.06 50.92L193.46 52.62L193.85 54.38L194.25 56.21L194.65 58.09L195.05 60.02L195.44 62.00L195.84 64.02L196.24 66.09L196.64 68.19L197.03 70.32L197.43 72.48L197.83 74.66L198.23 76.87L198.62 79.08L199.02 81.31L199.42 83.54L199.82 85.78L200.22 88.01L200.61 90.23L201.01 92.44L201.41 94.64L201.81 96.81L202.20 98.96L202.60 101.08L203.00 103.16L203.40 105.21L203.79 107.21L204.19 109.17L204.59 111.08L204.99 112.94L205.38 114.73L205.78 116.47L206.18 118.14L206.58 119.74L206.97 121.27L207.37 122.73L207.77 124.11L208.16 125.41L208.56 126.62L208.96 127.75L209.36 128.80L209.75 129.75L210.15 130.61L210.55 131.38L210.95 132.05L211.34 132.63L211.74 133.11L212.14 133.49L212.54 133.77L212.94 133.95L213.33 134.04L213.73 134.02L214.13 133.90L214.53 133.68L214.92 133.36L215.32 132.94L215.72 132.42L216.11 131.81L216.51 131.10L216.91 130.29L217.31 129.40L217.71 128.41L218.10 127.33L218.50 126.16L218.90 124.91L219.29 123.58L219.69 122.16L220.09 120.67L220.49 119.11L220.88 117.48L221.28 115.77L221.68 114.01L222.08 112.18L222.47 110.30L222.87 108.36L223.27 106.37L223.67 104.34L224.06 102.27L224.46 100.16L224.86 98.01L225.26 95.84L225.66 93.65L226.05 91.43L226.45 89.20L226.85 86.96L227.24 84.71L227.64 82.45L228.04 80.21L228.44 77.96L228.84 75.73L229.23 73.52L229.63 71.33L230.03 69.16L230.42 67.02L230.82 64.91L231.22 62.84L231.62 60.81L232.01 58.83L232.41 56.90L232.81 55.02L233.21 53.20L233.60 51.44L234.00 49.75L234.40 48.12L234.80 46.56L235.20 45.08L235.59 43.68L235.99 42.35L236.39 41.11L236.78 39.95L237.18 38.88L237.58 37.90L237.98 37.01L238.38 36.22L238.77 35.51L239.17 34.91L239.57 34.40L239.97 33.99L240.36 33.68L240.76 33.47L241.16 33.36L241.55 33.35L241.95 33.44L242.35 33.63L242.75 33.92L243.15 34.31L243.54 34.80L243.94 35.39L244.34 36.07L244.74 36.84L245.13 37.71L245.53 38.67L245.93 39.72L246.33 40.86L246.72 42.08L247.12 43.38L247.52 44.77L247.91 46.23L248.31 47.76L248.71 49.37L249.11 51.04L249.50 52.78L249.90 54.58L250.30 56.43L250.70 58.34L251.10 60.30L251.49 62.30L251.89 64.35L252.29 66.43L252.69 68.55L253.08 70.70L253.48 72.87L253.88 75.06L254.28 77.27L254.67 79.49L255.07 81.71L255.47 83.94L255.87 86.17L256.26 88.39L256.66 90.60L257.06 92.79L257.46 94.97L257.85 97.12L258.25 99.25L258.65 101.34L259.04 103.39L259.44 105.41L259.84 107.38L260.24 109.30L260.63 111.17L261.03 112.98L261.43 114.73L261.83 116.42L262.23 118.05L262.62 119.60L263.02 121.08L263.42 122.49L263.81 123.82L264.21 125.06L264.61 126.23L265.01 127.30L265.40 128.29L265.80 129.19L266.20 130.00L266.60 130.72L267.00 131.34L267.39 131.87L267.79 132.29L268.19 132.63L268.59 132.86L268.98 133.00L269.38 133.03L269.78 132.97L270.17 132.81L270.57 132.56L270.97 132.20L271.37 131.75L271.76 131.21L272.16 130.56L272.56 129.83L272.96 129.01L273.36 128.09L273.75 127.09L274.15 126.00L274.55 124.83L274.95 123.58L275.34 122.25L275.74 120.84L276.14 119.36L276.53 117.81L276.93 116.19L277.33 114.51L277.73 112.78L278.12 110.98L278.52 109.13L278.92 107.23L279.32 105.29L279.72 103.31L280.11 101.29L280.51 99.23L280.91 97.15L281.30 95.04L281.70 92.91L282.10 90.77L282.50 88.61L282.89 86.45L283.29 84.28L283.69 82.11L284.09 79.95L284.49 77.80L284.88 75.66L285.28 73.54L285.68 71.45L286.08 69.38L286.47 67.34L286.87 65.33L287.27 63.37L287.66 61.45L288.06 59.57L288.46 57.74L288.86 55.97L289.25 54.26L289.65 52.60L290.05 51.01L290.45 49.49L290.85 48.03L291.24 46.65L291.64 45.35L292.04 44.12L292.44 42.97L292.83 41.91L293.23 40.93L293.63 40.03L294.02 39.23L294.42 38.51L294.82 37.89L295.22 37.35L295.62 36.91L296.01 36.57L296.41 36.31L296.81 36.16L297.21 36.10L297.60 36.13L298.00 36.26L298.40 36.48L298.79 36.79L299.19 37.20L299.59 37.70L299.99 38.29L300.38 38.97L300.78 39.74L301.18 40.60L301.58 41.54L301.98 42.56L302.37 43.67L302.77 44.85L303.17 46.10L303.56 47.43L303.96 48.83L304.36 50.30L304.76 51.84L305.15 53.43L305.55 55.08L305.95 56.79L306.35 58.54L306.75 60.35L307.14 62.20L307.54 64.08L307.94 66.01L308.34 67.96L308.73 69.95L309.13 71.96L309.53 73.99L309.92 76.03L310.32 78.09L310.72 80.15L311.12 82.22L311.51 84.29L311.91 86.35L312.31 88.41L312.71 90.45L313.11 92.48L313.50 94.48L313.90 96.46L314.30 98.41L314.70 100.33L315.09 102.21L315.49 104.05L315.89 105.85L316.29 107.60L316.68 109.30L317.08 110.94L317.48 112.53L317.88 114.06L318.27 115.52L318.67 116.92L319.07 118.25L319.46 119.51L319.86 120.69L320.26 121.80L320.66 122.83L321.06 123.78L321.45 124.65L321.85 125.43L322.25 126.13L322.65 126.75L323.04 127.28L323.44 127.72L323.84 128.07L324.24 128.33L324.63 128.50L325.03 128.58L325.43 128.58L325.82 128.48L326.22 128.29L326.62 128.02L327.02 127.66L327.42 127.21L327.81 126.67L328.21 126.05L328.61 125.35L329.00 124.56L329.40 123.70L329.80 122.75L330.20 121.73L330.60 120.64L330.99 119.48L331.39 118.24L331.79 116.94L332.19 115.58L332.58 114.15L332.98 112.67L333.38 111.13L333.78 109.55L334.17 107.91L334.57 106.23L334.97 104.50L335.37 102.74L335.76 100.95L336.16 99.12L336.56 97.27L336.95 95.39L337.35 93.50L337.75 91.59L338.15 89.66L338.55 87.73L338.94 85.80L339.34 83.87L339.74 81.94L340.13 80.02L340.53 78.11L340.93 76.21L341.33 74.33L341.72 72.48L342.12 70.66L342.52 68.86L342.92 67.10L343.31 65.37L343.71 63.69L344.11 62.05L344.51 60.45L344.90 58.91L345.30 57.42L345.70 55.98L346.10 54.61L346.50 53.29L346.89 52.04L347.29 50.86L347.69 49.74L348.08 48.69L348.48 47.72L348.88 46.82L349.28 45.99L349.68 45.25L350.07 44.58L350.47 43.99L350.87 43.48L351.26 43.06L351.66 42.71L352.06 42.45L352.46 42.27L352.85 42.17L353.25 42.16L353.65 42.23L354.05 42.38L354.44 42.62L354.84 42.93L355.24 43.33L355.64 43.80L356.04 44.35L356.43 44.98L356.83 45.69L357.23 46.47L357.62 47.32L358.02 48.24L358.42 49.23L358.82 50.29L359.21 51.41L359.61 52.59L360.01 53.83L360.41 55.13L360.81 56.47L361.20 57.87L361.60 59.32L362.00 60.81L362.40 62.35L362.79 63.92L363.19 65.52L363.59 67.16L363.99 68.83L364.38 70.52L364.78 72.23L365.18 73.96L365.57 75.70L365.97 77.46L366.37 79.22L366.77 80.98L367.17 82.75L367.56 84.51L367.96 86.27L368.36 88.01L368.75 89.74L369.15 91.46L369.55 93.15L369.95 94.82L370.35 96.46L370.74 98.07L371.14 99.65L371.54 101.19L371.94 102.69L372.33 104.14L372.73 105.56L373.13 106.92L373.53 108.23L373.92 109.49L374.32 110.70L374.72 111.85L375.12 112.93L375.51 113.96L375.91 114.92L376.31 115.81L376.70 116.64L377.10 117.40L377.50 118.09L377.90 118.71L378.30 119.26L378.69 119.73L379.09 120.13L379.49 120.46L379.89 120.71L380.28 120.89L380.68 120.99L381.08 121.02L381.47 120.97L381.87 120.85L382.27 120.66L382.67 120.39L383.06 120.05L383.46 119.63L383.86 119.15L384.26 118.60L384.65 117.98L385.05 117.29L385.45 116.54L385.85 115.73L386.25 114.85L386.64 113.92L387.04 112.93L387.44 111.88L387.83 110.78L388.23 109.63L388.63 108.44L389.03 107.20L389.43 105.91L389.82 104.59L390.22 103.23L390.62 101.83L391.01 100.41L391.41 98.95L391.81 97.47L392.21 95.97L392.61 94.45L393.00 92.92L393.40 91.37L393.80 89.81L394.19 88.25L394.59 86.68L394.99 85.11L395.39 83.55L395.79 81.99L396.18 80.44L396.58 78.91L396.98 77.39L397.38 75.89L397.77 74.41L398.17 72.95L398.57 71.52L398.96 70.12L399.36 68.76L399.76 67.43L400.16 66.13L400.56 64.88L400.95 63.67L401.35 62.51L401.75 61.39L402.14 60.32L402.54 59.30L402.94 58.34L403.34 57.43L403.73 56.58L404.13 55.78L404.53 55.04L404.93 54.37L405.32 53.75L405.72 53.20L406.12 52.71L406.52 52.29L406.92 51.92L407.31 51.63L407.71 51.40L408.11 51.23L408.50 51.13L408.90 51.10L409.30 51.13L409.70 51.23L410.10 51.39L410.49 51.61L410.89 51.90L411.29 52.25L411.68 52.66L412.08 53.13L412.48 53.66L412.88 54.25L413.28 54.89L413.67 55.59L414.07 56.34L414.47 57.15L414.87 58.00L415.26 58.90L415.66 59.84L416.06 60.83L416.45 61.86L416.85 62.92L417.25 64.03L417.65 65.17L418.05 66.33L418.44 67.53L418.84 68.76L419.24 70.01L419.63 71.27L420.03 72.56L420.43 73.87L420.83 75.18L421.22 76.51L421.62 77.85L422.02 79.19L422.42 80.53L422.82 81.87L423.21 83.21L423.61 84.54L424.01 85.87L424.40 87.18L424.80 88.48L425.20 89.76L425.60 91.02L426.00 92.27L426.39 93.49L426.79 94.68L427.19 95.84L427.58 96.98L427.98 98.08L428.38 99.14L428.78 100.17L429.18 101.16L429.57 102.11L429.97 103.02L430.37 103.89L430.77 104.71L431.16 105.48L431.56 106.20L431.96 106.88L432.36 107.50L432.75 108.08L433.15 108.60L433.55 109.07L433.94 109.48L434.34 109.85L434.74 110.15L435.14 110.40L435.54 110.60L435.93 110.74L436.33 110.83L436.73 110.86L437.12 110.84L437.52 110.76L437.92 110.63L438.32 110.44L438.71 110.21L439.11 109.92L439.51 109.58L439.91 109.19L440.31 108.75L440.70 108.26L441.10 107.73L441.50 107.15L441.89 106.53L442.29 105.86L442.69 105.16L443.09 104.42L443.48 103.64L443.88 102.82L444.28 101.97L444.68 101.09L445.07 100.18L445.47 99.25L445.87 98.28L446.27 97.30L446.67 96.29L447.06 95.27L447.46 94.23L447.86 93.17L448.25 92.10L448.65 91.02L449.05 89.94L449.45 88.85L449.85 87.75L450.24 86.66L450.64 85.56L451.04 84.47L451.43 83.39L451.83 82.31L452.23 81.25L452.63 80.19L453.03 79.15L453.42 78.13L453.82 77.13L454.22 76.14L454.62 75.18L455.01 74.24L455.41 73.33L455.81 72.44L456.20 71.58L456.60 70.76L457.00 69.96L457.40 69.20L457.80 68.47L458.19 67.78L458.59 67.13L458.99 66.51L459.38 65.94L459.78 65.40L460.18 64.91L460.58 64.45L460.97 64.04L461.37 63.67L461.77 63.35L462.17 63.07L462.57 62.83L462.96 62.63L463.36 62.48L463.76 62.37L464.15 62.31L464.55 62.29L464.95 62.32L465.35 62.38L465.75 62.49L466.14 62.64L466.54 62.83L466.94 63.07L467.33 63.34L467.73 63.65L468.13 64.00L468.53 64.39L468.93 64.81L469.32 65.26L469.72 65.75L470.12 66.27L470.52 66.83L470.91 67.41L471.31 68.02L471.71 68.65L472.11 69.31L472.50 70.00L472.90 70.70L473.30 71.43L473.69 72.17L474.09 72.93L474.49 73.71L474.89 74.49L475.29 75.29L475.68 76.10L476.08 76.92L476.48 77.74L476.88 78.57L477.27 79.40L477.67 80.23L478.07 81.06L478.46 81.89L478.86 82.71L479.26 83.53L479.66 84.34L480.06 85.14L480.45 85.93L480.85 86.71L481.25 87.47L481.64 88.22L482.04 88.95L482.44 89.66L482.84 90.36L483.23 91.03L483.63 91.68L484.03 92.31L484.43 92.91L484.82 93.49L485.22 94.04L485.62 94.57L486.02 95.07L486.42 95.54L486.81 95.98L487.21 96.39L487.61 96.77L488.00 97.11L488.40 97.43L488.80 97.72L489.20 97.97L489.60 98.19L489.99 98.38L490.39 98.54L490.79 98.66L491.18 98.76L491.58 98.82L491.98 98.85L492.38 98.84L492.78 98.81L493.17 98.75L493.57 98.65L493.97 98.53L494.37 98.37L494.76 98.19L495.16 97.98L495.56 97.75L495.95 97.48L496.35 97.20L496.75 96.88L497.15 96.55L497.55 96.19L497.94 95.81L498.34 95.41L498.74 95.00L499.13 94.56L499.53 94.11L499.93 93.64L500.33 93.16L500.72 92.66L501.12 92.15L501.52 91.63L501.92 91.11L502.32 90.57L502.71 90.03L503.11 89.48L503.51 88.93L503.90 88.37L504.30 87.81L504.70 87.26L505.10 86.70L505.50 86.14L505.89 85.59L506.29 85.04L506.69 84.50L507.08 83.96L507.48 83.44L507.88 82.92L508.28 82.41L508.68 81.91L509.07 81.42L509.47 80.94L509.87 80.48L510.27 80.03L510.66 79.60L511.06 79.18L511.46 78.78L511.86 78.40L512.25 78.04L512.65 77.69L513.05 77.36L513.44 77.05L513.84 76.76L514.24 76.49L514.64 76.24L515.04 76.01L515.43 75.81L515.83 75.62L516.23 75.45L516.62 75.30L517.02 75.18L517.42 75.08L517.82 74.99L518.21 74.93L518.61 74.88L519.01 74.86L519.41 74.86L519.81 74.87L520.20 74.91L520.60 74.96L521.00 75.03L521.39 75.12L521.79 75.23L522.19 75.35L522.59 75.49L522.98 75.64L523.38 75.81L523.78 75.99L524.18 76.18L524.58 76.39L524.97 76.61L525.37 76.84L525.77 77.08L526.16 77.32L526.56 77.58L526.96 77.84L527.36 78.11L527.75 78.39L528.15 78.67L528.55 78.95L528.95 79.24L529.35 79.53L529.74 79.82L530.14 80.12L530.54 80.41L530.93 80.70L531.33 80.99L531.73 81.28L532.13 81.57L532.53 81.85L532.92 82.13L533.32 82.40L533.72 82.67L534.12 82.93L534.51 83.18L534.91 83.43L535.31 83.67L535.70 83.90L536.10 84.12L536.50 84.33" class="cb"/>
</g></g>
<text transform="translate(18.40 85.00) rotate(-90)" class="yl" text-anchor="middle"><tspan class="gk">&#948;</tspan><tspan class="it">v</tspan><tspan class="it sub" dy="8.60">E</tspan><tspan dy="-8.60">(m/s)</tspan></text>
<line x1="139.00" y1="380.50" x2="139.00" y2="228.50" class="grid gv"/>
<line x1="218.50" y1="380.50" x2="218.50" y2="228.50" class="grid gv"/>
<line x1="298.50" y1="380.50" x2="298.50" y2="228.50" class="grid gv"/>
<line x1="377.50" y1="380.50" x2="377.50" y2="228.50" class="grid gv"/>
<line x1="457.00" y1="380.50" x2="457.00" y2="228.50" class="grid gv"/>
<line x1="536.50" y1="256.50" x2="59.50" y2="256.50" class="grid gh"/>
<line x1="536.50" y1="303.50" x2="59.50" y2="303.50" class="grid gh"/>
<line x1="536.50" y1="350.50" x2="59.50" y2="350.50" class="grid gh"/>
<rect x="59.50" y="228.50" width="477.00" height="152.00" class="ax"/>
<line x1="59.50" y1="380.50" x2="59.50" y2="375.50" class="tk"/>
<line x1="59.50" y1="228.50" x2="59.50" y2="233.50" class="tk"/>
<text x="59.90" y="406.30" class="tl" text-anchor="middle">0</text>
<line x1="139.00" y1="380.50" x2="139.00" y2="375.50" class="tk"/>
<line x1="139.00" y1="228.50" x2="139.00" y2="233.50" class="tk"/>
<text x="139.40" y="406.30" class="tl" text-anchor="middle">2</text>
<line x1="218.50" y1="380.50" x2="218.50" y2="375.50" class="tk"/>
<line x1="218.50" y1="228.50" x2="218.50" y2="233.50" class="tk"/>
<text x="218.90" y="406.30" class="tl" text-anchor="middle">4</text>
<line x1="298.50" y1="380.50" x2="298.50" y2="375.50" class="tk"/>
<line x1="298.50" y1="228.50" x2="298.50" y2="233.50" class="tk"/>
<text x="298.90" y="406.30" class="tl" text-anchor="middle">6</text>
<line x1="377.50" y1="380.50" x2="377.50" y2="375.50" class="tk"/>
<line x1="377.50" y1="228.50" x2="377.50" y2="233.50" class="tk"/>
<text x="377.90" y="406.30" class="tl" text-anchor="middle">8</text>
<line x1="457.00" y1="380.50" x2="457.00" y2="375.50" class="tk"/>
<line x1="457.00" y1="228.50" x2="457.00" y2="233.50" class="tk"/>
<text x="457.40" y="406.30" class="tl" text-anchor="middle">10</text>
<line x1="536.50" y1="380.50" x2="536.50" y2="375.50" class="tk"/>
<line x1="536.50" y1="228.50" x2="536.50" y2="233.50" class="tk"/>
<text x="536.90" y="406.30" class="tl" text-anchor="middle">12</text>
<line x1="59.50" y1="256.50" x2="64.50" y2="256.50" class="tk"/>
<line x1="536.50" y1="256.50" x2="531.50" y2="256.50" class="tk"/>
<text x="52.30" y="263.80" class="tl" text-anchor="end">2</text>
<line x1="59.50" y1="303.50" x2="64.50" y2="303.50" class="tk"/>
<line x1="536.50" y1="303.50" x2="531.50" y2="303.50" class="tk"/>
<text x="52.30" y="310.80" class="tl" text-anchor="end">0</text>
<line x1="59.50" y1="350.50" x2="64.50" y2="350.50" class="tk"/>
<line x1="536.50" y1="350.50" x2="531.50" y2="350.50" class="tk"/>
<text x="52.30" y="357.80" class="tl" text-anchor="end">-2</text>
<g clip-path="url(#c2)"><g transform="scale(1 1.0160)">
<path d="M59.50 298.51L59.90 297.70L60.30 296.90L60.69 296.10L61.09 295.31L61.49 294.53L61.88 293.76L62.28 293.00L62.68 292.26L63.08 291.53L63.48 290.82L63.87 290.12L64.27 289.45L64.67 288.80L65.06 288.16L65.46 287.56L65.86 286.97L66.26 286.41L66.66 285.88L67.05 285.38L67.45 284.90L67.85 284.45L68.25 284.04L68.64 283.65L69.04 283.30L69.44 282.97L69.84 282.68L70.23 282.42L70.63 282.20L71.03 282.01L71.42 281.85L71.82 281.72L72.22 281.63L72.62 281.58L73.02 281.56L73.41 281.57L73.81 281.62L74.21 281.70L74.61 281.81L75.00 281.96L75.40 282.13L75.80 282.34L76.19 282.59L76.59 282.86L76.99 283.16L77.39 283.49L77.78 283.85L78.18 284.24L78.58 284.66L78.98 285.10L79.38 285.56L79.77 286.05L80.17 286.57L80.57 287.10L80.97 287.65L81.36 288.23L81.76 288.82L82.16 289.43L82.55 290.05L82.95 290.69L83.35 291.34L83.75 292.00L84.14 292.67L84.54 293.35L84.94 294.03L85.34 294.73L85.73 295.42L86.13 296.12L86.53 296.82L86.93 297.52L87.33 298.22L87.72 298.92L88.12 299.61L88.52 300.30L88.92 300.98L89.31 301.65L89.71 302.31L90.11 302.96L90.50 303.60L90.90 304.23L91.30 304.84L91.70 305.43L92.09 306.01L92.49 306.57L92.89 307.11L93.29 307.63L93.69 308.13L94.08 308.61L94.48 309.06L94.88 309.49L95.28 309.90L95.67 310.28L96.07 310.64L96.47 310.97L96.87 311.27L97.26 311.55L97.66 311.80L98.06 312.02L98.45 312.21L98.85 312.38L99.25 312.51L99.65 312.62L100.05 312.70L100.44 312.75L100.84 312.77L101.24 312.76L101.63 312.72L102.03 312.66L102.43 312.56L102.83 312.44L103.22 312.30L103.62 312.12L104.02 311.92L104.42 311.69L104.81 311.44L105.21 311.16L105.61 310.86L106.01 310.54L106.41 310.20L106.80 309.83L107.20 309.44L107.60 309.03L108.00 308.61L108.39 308.16L108.79 307.70L109.19 307.23L109.59 306.74L109.98 306.24L110.38 305.72L110.78 305.19L111.18 304.65L111.57 304.11L111.97 303.55L112.37 302.99L112.77 302.43L113.16 301.86L113.56 301.28L113.96 300.71L114.35 300.13L114.75 299.55L115.15 298.98L115.55 298.41L115.94 297.84L116.34 297.28L116.74 296.72L117.14 296.17L117.53 295.63L117.93 295.10L118.33 294.58L118.73 294.07L119.12 293.57L119.52 293.09L119.92 292.62L120.32 292.17L120.72 291.73L121.11 291.31L121.51 290.90L121.91 290.52L122.31 290.15L122.70 289.80L123.10 289.47L123.50 289.17L123.89 288.88L124.29 288.61L124.69 288.37L125.09 288.15L125.48 287.95L125.88 287.77L126.28 287.62L126.68 287.49L127.08 287.39L127.47 287.30L127.87 287.24L128.27 287.20L128.67 287.19L129.06 287.20L129.46 287.23L129.86 287.28L130.25 287.36L130.65 287.46L131.05 287.58L131.45 287.72L131.84 287.88L132.24 288.06L132.64 288.26L133.04 288.48L133.44 288.72L133.83 288.98L134.23 289.25L134.63 289.54L135.02 289.85L135.42 290.17L135.82 290.51L136.22 290.85L136.62 291.22L137.01 291.59L137.41 291.97L137.81 292.37L138.20 292.77L138.60 293.18L139.00 293.60L139.40 294.02L139.80 294.45L140.19 294.89L140.59 295.32L140.99 295.76L141.38 296.21L141.78 296.65L142.18 297.09L142.58 297.53L142.98 297.97L143.37 298.41L143.77 298.84L144.17 299.27L144.56 299.69L144.96 300.11L145.36 300.52L145.76 300.92L146.16 301.31L146.55 301.70L146.95 302.07L147.35 302.43L147.75 302.78L148.14 303.12L148.54 303.45L148.94 303.76L149.33 304.06L149.73 304.34L150.13 304.61L150.53 304.87L150.93 305.11L151.32 305.33L151.72 305.54L152.12 305.73L152.51 305.90L152.91 306.06L153.31 306.20L153.71 306.32L154.11 306.43L154.50 306.52L154.90 306.59L155.30 306.64L155.69 306.68L156.09 306.70L156.49 306.70L156.89 306.69L157.29 306.66L157.68 306.61L158.08 306.55L158.48 306.47L158.88 306.37L159.27 306.27L159.67 306.14L160.07 306.00L160.46 305.85L160.86 305.69L161.26 305.51L161.66 305.32L162.06 305.12L162.45 304.90L162.85 304.68L163.25 304.45L163.64 304.21L164.04 303.95L164.44 303.69L164.84 303.43L165.24 303.15L165.63 302.87L166.03 302.59L166.43 302.30L166.82 302.00L167.22 301.71L167.62 301.41L168.02 301.11L168.42 300.80L168.81 300.50L169.21 300.19L169.61 299.89L170.00 299.59L170.40 299.29L170.80 298.99L171.20 298.70L171.59 298.41L171.99 298.12L172.39 297.84L172.79 297.56L173.19 297.29L173.58 297.03L173.98 296.78L174.38 296.53L174.77 296.29L175.17 296.05L175.57 295.83L175.97 295.62L176.37 295.41L176.76 295.22L177.16 295.03L177.56 294.85L177.95 294.69L178.35 294.54L178.75 294.39L179.15 294.26L179.55 294.14L179.94 294.03L180.34 293.94L180.74 293.85L181.13 293.77L181.53 293.71L181.93 293.66L182.33 293.62L182.73 293.59L183.12 293.57L183.52 293.56L183.92 293.56L184.31 293.58L184.71 293.60L185.11 293.64L185.51 293.68L185.91 293.73L186.30 293.80L186.70 293.87L187.10 293.95L187.50 294.04L187.89 294.14L188.29 294.24L188.69 294.35L189.09 294.47L189.48 294.60L189.88 294.73L190.28 294.86L190.67 295.00L191.07 295.15L191.47 295.30L191.87 295.45L192.26 295.61L192.66 295.77L193.06 295.93L193.46 296.10L193.85 296.26L194.25 296.43L194.65 296.60L195.05 296.77L195.44 296.93L195.84 297.10L196.24 297.26L196.64 297.43L197.03 297.59L197.43 297.75L197.83 297.91L198.23 298.06L198.62 298.21L199.02 298.36L199.42 298.50L199.82 298.64L200.22 298.78L200.61 298.91L201.01 299.03L201.41 299.15L201.81 299.26L202.20 299.37L202.60 299.47L203.00 299.57L203.40 299.66L203.79 299.74L204.19 299.82L204.59 299.89L204.99 299.96L205.38 300.02L205.78 300.07L206.18 300.12L206.58 300.16L206.97 300.19L207.37 300.22L207.77 300.24L208.16 300.25L208.56 300.26L208.96 300.27L209.36 300.26L209.75 300.26L210.15 300.24L210.55 300.23L210.95 300.20L211.34 300.18L211.74 300.15L212.14 300.11L212.54 300.07L212.94 300.03L213.33 299.98L213.73 299.93L214.13 299.88L214.53 299.83L214.92 299.77L215.32 299.71L215.72 299.65L216.11 299.59L216.51 299.53L216.91 299.47L217.31 299.41L217.71 299.35L218.10 299.28L218.50 299.22L218.90 299.16L219.29 299.10L219.69 299.04L220.09 298.99L220.49 298.93L220.88 298.88L221.28 298.83L221.68 298.79L222.08 298.74L222.47 298.70L222.87 298.66L223.27 298.63L223.67 298.60L224.06 298.57L224.46 298.55L224.86 298.53L225.26 298.52L225.66 298.50L226.05 298.50L226.45 298.50L226.85 298.50L227.24 298.51L227.64 298.52L228.04 298.53L228.44 298.55L228.84 298.57L229.23 298.60L229.63 298.63L230.03 298.67L230.42 298.71L230.82 298.75L231.22 298.80L231.62 298.85L232.01 298.90L232.41 298.96L232.81 299.02L233.21 299.08L233.60 299.14L234.00 299.21L234.40 299.28L234.80 299.35L235.20 299.42L235.59 299.49L235.99 299.56L236.39 299.63L236.78 299.71L237.18 299.78L237.58 299.85L237.98 299.92L238.38 299.99L238.77 300.06L239.17 300.13L239.57 300.19L239.97 300.25L240.36 300.31L240.76 300.37L241.16 300.42L241.55 300.47L241.95 300.51L242.35 300.55L242.75 300.59L243.15 300.62L243.54 300.65L243.94 300.67L244.34 300.68L244.74 300.69L245.13 300.70L245.53 300.70L245.93 300.69L246.33 300.67L246.72 300.65L247.12 300.62L247.52 300.59L247.91 300.55L248.31 300.50L248.71 300.44L249.11 300.38L249.50 300.31L249.90 300.23L250.30 300.15L250.70 300.06L251.10 299.96L251.49 299.86L251.89 299.75L252.29 299.63L252.69 299.51L253.08 299.38L253.48 299.24L253.88 299.10L254.28 298.96L254.67 298.81L255.07 298.65L255.47 298.49L255.87 298.32L256.26 298.16L256.66 297.98L257.06 297.81L257.46 297.63L257.85 297.45L258.25 297.27L258.65 297.08L259.04 296.90L259.44 296.71L259.84 296.53L260.24 296.34L260.63 296.15L261.03 295.97L261.43 295.79L261.83 295.61L262.23 295.43L262.62 295.25L263.02 295.08L263.42 294.92L263.81 294.75L264.21 294.60L264.61 294.44L265.01 294.30L265.40 294.16L265.80 294.02L266.20 293.90L266.60 293.78L267.00 293.67L267.39 293.57L267.79 293.48L268.19 293.39L268.59 293.32L268.98 293.26L269.38 293.20L269.78 293.16L270.17 293.13L270.57 293.11L270.97 293.10L271.37 293.10L271.76 293.11L272.16 293.14L272.56 293.18L272.96 293.23L273.36 293.29L273.75 293.36L274.15 293.45L274.55 293.55L274.95 293.66L275.34 293.78L275.74 293.91L276.14 294.06L276.53 294.22L276.93 294.39L277.33 294.57L277.73 294.76L278.12 294.97L278.52 295.18L278.92 295.40L279.32 295.64L279.72 295.88L280.11 296.13L280.51 296.39L280.91 296.66L281.30 296.94L281.70 297.22L282.10 297.52L282.50 297.81L282.89 298.11L283.29 298.42L283.69 298.73L284.09 299.05L284.49 299.37L284.88 299.69L285.28 300.01L285.68 300.33L286.08 300.66L286.47 300.98L286.87 301.30L287.27 301.62L287.66 301.94L288.06 302.26L288.46 302.57L288.86 302.88L289.25 303.18L289.65 303.47L290.05 303.76L290.45 304.04L290.85 304.31L291.24 304.58L291.64 304.83L292.04 305.08L292.44 305.31L292.83 305.53L293.23 305.74L293.63 305.94L294.02 306.13L294.42 306.30L294.82 306.45L295.22 306.60L295.62 306.72L296.01 306.84L296.41 306.93L296.81 307.01L297.21 307.07L297.60 307.12L298.00 307.15L298.40 307.16L298.79 307.15L299.19 307.12L299.59 307.08L299.99 307.02L300.38 306.94L300.78 306.84L301.18 306.73L301.58 306.60L301.98 306.44L302.37 306.27L302.77 306.09L303.17 305.88L303.56 305.66L303.96 305.42L304.36 305.17L304.76 304.90L305.15 304.61L305.55 304.31L305.95 303.99L306.35 303.66L306.75 303.32L307.14 302.96L307.54 302.59L307.94 302.21L308.34 301.82L308.73 301.42L309.13 301.00L309.53 300.58L309.92 300.15L310.32 299.72L310.72 299.27L311.12 298.82L311.51 298.37L311.91 297.92L312.31 297.46L312.71 296.99L313.11 296.53L313.50 296.07L313.90 295.61L314.30 295.15L314.70 294.69L315.09 294.24L315.49 293.79L315.89 293.35L316.29 292.92L316.68 292.49L317.08 292.07L317.48 291.67L317.88 291.27L318.27 290.88L318.67 290.51L319.07 290.15L319.46 289.80L319.86 289.47L320.26 289.16L320.66 288.86L321.06 288.57L321.45 288.31L321.85 288.07L322.25 287.84L322.65 287.63L323.04 287.45L323.44 287.28L323.84 287.14L324.24 287.02L324.63 286.92L325.03 286.85L325.43 286.79L325.82 286.77L326.22 286.76L326.62 286.78L327.02 286.82L327.42 286.89L327.81 286.98L328.21 287.09L328.61 287.23L329.00 287.39L329.40 287.58L329.80 287.79L330.20 288.02L330.60 288.28L330.99 288.55L331.39 288.85L331.79 289.17L332.19 289.52L332.58 289.88L332.98 290.26L333.38 290.67L333.78 291.09L334.17 291.53L334.57 291.98L334.97 292.45L335.37 292.94L335.76 293.44L336.16 293.96L336.56 294.49L336.95 295.03L337.35 295.58L337.75 296.14L338.15 296.70L338.55 297.28L338.94 297.86L339.34 298.45L339.74 299.04L340.13 299.63L340.53 300.22L340.93 300.82L341.33 301.41L341.72 302.00L342.12 302.59L342.52 303.18L342.92 303.75L343.31 304.32L343.71 304.89L344.11 305.44L344.51 305.98L344.90 306.51L345.30 307.03L345.70 307.53L346.10 308.02L346.50 308.49L346.89 308.94L347.29 309.38L347.69 309.80L348.08 310.19L348.48 310.57L348.88 310.92L349.28 311.25L349.68 311.56L350.07 311.84L350.47 312.09L350.87 312.32L351.26 312.53L351.66 312.70L352.06 312.85L352.46 312.97L352.85 313.06L353.25 313.13L353.65 313.16L354.05 313.17L354.44 313.14L354.84 313.09L355.24 313.00L355.64 312.89L356.04 312.75L356.43 312.57L356.83 312.37L357.23 312.14L357.62 311.88L358.02 311.60L358.42 311.28L358.82 310.94L359.21 310.57L359.61 310.17L360.01 309.75L360.41 309.31L360.81 308.84L361.20 308.34L361.60 307.83L362.00 307.29L362.40 306.73L362.79 306.16L363.19 305.56L363.59 304.95L363.99 304.32L364.38 303.68L364.78 303.03L365.18 302.36L365.57 301.68L365.97 300.99L366.37 300.29L366.77 299.59L367.17 298.88L367.56 298.17L367.96 297.45L368.36 296.73L368.75 296.01L369.15 295.30L369.55 294.59L369.95 293.88L370.35 293.18L370.74 292.48L371.14 291.80L371.54 291.12L371.94 290.46L372.33 289.81L372.73 289.17L373.13 288.55L373.53 287.95L373.92 287.36L374.32 286.80L374.72 286.26L375.12 285.74L375.51 285.24L375.91 284.76L376.31 284.32L376.70 283.90L377.10 283.50L377.50 283.14L377.90 282.80L378.30 282.49L378.69 282.22L379.09 281.98L379.49 281.76L379.89 281.59L380.28 281.44L380.68 281.33L381.08 281.25L381.47 281.21L381.87 281.20L382.27 281.22L382.67 281.28L383.06 281.38L383.46 281.51L383.86 281.68L384.26 281.87L384.65 282.11L385.05 282.38L385.45 282.68L385.85 283.01L386.25 283.38L386.64 283.77L387.04 284.20L387.44 284.66L387.83 285.15L388.23 285.67L388.63 286.21L389.03 286.79L389.43 287.38L389.82 288.01L390.22 288.65L390.62 289.32L391.01 290.01L391.41 290.72L391.81 291.45L392.21 292.19L392.61 292.95L393.00 293.72L393.40 294.51L393.80 295.30L394.19 296.11L394.59 296.92L394.99 297.75L395.39 298.57L395.79 299.40L396.18 300.23L396.58 301.05L396.98 301.88L397.38 302.70L397.77 303.52L398.17 304.33L398.57 305.13L398.96 305.92L399.36 306.70L399.76 307.46L400.16 308.21L400.56 308.95L400.95 309.66L401.35 310.35L401.75 311.03L402.14 311.68L402.54 312.30L402.94 312.90L403.34 313.48L403.73 314.02L404.13 314.54L404.53 315.03L404.93 315.48L405.32 315.90L405.72 316.29L406.12 316.65L406.52 316.96L406.92 317.25L407.31 317.49L407.71 317.70L408.11 317.88L408.50 318.01L408.90 318.10L409.30 318.16L409.70 318.18L410.10 318.15L410.49 318.09L410.89 317.99L411.29 317.85L411.68 317.67L412.08 317.45L412.48 317.19L412.88 316.90L413.28 316.57L413.67 316.20L414.07 315.79L414.47 315.35L414.87 314.87L415.26 314.36L415.66 313.81L416.06 313.23L416.45 312.62L416.85 311.99L417.25 311.32L417.65 310.62L418.05 309.90L418.44 309.16L418.84 308.39L419.24 307.59L419.63 306.78L420.03 305.95L420.43 305.10L420.83 304.24L421.22 303.36L421.62 302.47L422.02 301.57L422.42 300.66L422.82 299.74L423.21 298.82L423.61 297.90L424.01 296.97L424.40 296.05L424.80 295.13L425.20 294.21L425.60 293.29L426.00 292.39L426.39 291.50L426.79 290.61L427.19 289.74L427.58 288.89L427.98 288.05L428.38 287.23L428.78 286.43L429.18 285.66L429.57 284.91L429.97 284.18L430.37 283.48L430.77 282.81L431.16 282.16L431.56 281.55L431.96 280.97L432.36 280.43L432.75 279.92L433.15 279.44L433.55 279.00L433.94 278.60L434.34 278.24L434.74 277.92L435.14 277.64L435.54 277.40L435.93 277.20L436.33 277.05L436.73 276.93L437.12 276.86L437.52 276.83L437.92 276.85L438.32 276.91L438.71 277.01L439.11 277.15L439.51 277.34L439.91 277.57L440.31 277.85L440.70 278.16L441.10 278.52L441.50 278.92L441.89 279.35L442.29 279.83L442.69 280.35L443.09 280.90L443.48 281.49L443.88 282.11L444.28 282.77L444.68 283.46L445.07 284.19L445.47 284.94L445.87 285.72L446.27 286.53L446.67 287.37L447.06 288.23L447.46 289.11L447.86 290.01L448.25 290.93L448.65 291.87L449.05 292.83L449.45 293.79L449.85 294.77L450.24 295.76L450.64 296.76L451.04 297.76L451.43 298.76L451.83 299.77L452.23 300.77L452.63 301.78L453.03 302.78L453.42 303.77L453.82 304.75L454.22 305.73L454.62 306.69L455.01 307.64L455.41 308.57L455.81 309.48L456.20 310.37L456.60 311.24L457.00 312.09L457.40 312.91L457.80 313.70L458.19 314.47L458.59 315.20L458.99 315.90L459.38 316.57L459.78 317.21L460.18 317.80L460.58 318.36L460.97 318.89L461.37 319.37L461.77 319.81L462.17 320.21L462.57 320.57L462.96 320.88L463.36 321.15L463.76 321.37L464.15 321.55L464.55 321.69L464.95 321.78L465.35 321.82L465.75 321.81L466.14 321.76L466.54 321.66L466.94 321.52L467.33 321.33L467.73 321.09L468.13 320.81L468.53 320.48L468.93 320.11L469.32 319.70L469.72 319.24L470.12 318.74L470.52 318.19L470.91 317.61L471.31 316.99L471.71 316.33L472.11 315.64L472.50 314.91L472.90 314.14L473.30 313.35L473.69 312.52L474.09 311.66L474.49 310.78L474.89 309.86L475.29 308.93L475.68 307.97L476.08 306.99L476.48 306.00L476.88 304.99L477.27 303.96L477.67 302.92L478.07 301.87L478.46 300.81L478.86 299.75L479.26 298.68L479.66 297.61L480.06 296.54L480.45 295.47L480.85 294.41L481.25 293.36L481.64 292.31L482.04 291.27L482.44 290.25L482.84 289.24L483.23 288.25L483.63 287.28L484.03 286.33L484.43 285.40L484.82 284.49L485.22 283.62L485.62 282.77L486.02 281.95L486.42 281.17L486.81 280.42L487.21 279.70L487.61 279.02L488.00 278.38L488.40 277.77L488.80 277.21L489.20 276.69L489.60 276.21L489.99 275.78L490.39 275.39L490.79 275.05L491.18 274.75L491.58 274.50L491.98 274.30L492.38 274.15L492.78 274.04L493.17 273.98L493.57 273.98L493.97 274.02L494.37 274.11L494.76 274.25L495.16 274.43L495.56 274.67L495.95 274.95L496.35 275.28L496.75 275.66L497.15 276.09L497.55 276.55L497.94 277.07L498.34 277.62L498.74 278.22L499.13 278.86L499.53 279.54L499.93 280.26L500.33 281.02L500.72 281.81L501.12 282.63L501.52 283.49L501.92 284.38L502.32 285.30L502.71 286.24L503.11 287.21L503.51 288.21L503.90 289.22L504.30 290.26L504.70 291.31L505.10 292.38L505.50 293.46L505.89 294.55L506.29 295.65L506.69 296.76L507.08 297.87L507.48 298.99L507.88 300.10L508.28 301.22L508.68 302.32L509.07 303.43L509.47 304.52L509.87 305.60L510.27 306.67L510.66 307.72L511.06 308.76L511.46 309.77L511.86 310.77L512.25 311.74L512.65 312.68L513.05 313.60L513.44 314.49L513.84 315.35L514.24 316.17L514.64 316.96L515.04 317.71L515.43 318.43L515.83 319.11L516.23 319.74L516.62 320.34L517.02 320.89L517.42 321.39L517.82 321.85L518.21 322.27L518.61 322.64L519.01 322.96L519.41 323.23L519.81 323.45L520.20 323.63L520.60 323.75L521.00 323.82L521.39 323.84L521.79 323.81L522.19 323.74L522.59 323.61L522.98 323.43L523.38 323.20L523.78 322.92L524.18 322.59L524.58 322.22L524.97 321.79L525.37 321.32L525.77 320.81L526.16 320.25L526.56 319.64L526.96 319.00L527.36 318.31L527.75 317.58L528.15 316.81L528.55 316.01L528.95 315.17L529.35 314.30L529.74 313.40L530.14 312.46L530.54 311.50L530.93 310.51L531.33 309.50L531.73 308.46L532.13 307.41L532.53 306.33L532.92 305.24L533.32 304.14L533.72 303.02L534.12 301.90L534.51 300.77L534.91 299.63L535.31 298.49L535.70 297.35L536.10 296.21L536.50 295.08" class="cr" style="stroke-dashoffset:-2.8"/>
<path d="M59.50 298.51L59.90 296.89L60.30 295.28L60.69 293.69L61.09 292.11L61.49 290.54L61.88 289.00L62.28 287.49L62.68 286.00L63.08 284.54L63.48 283.12L63.87 281.73L64.27 280.39L64.67 279.08L65.06 277.82L65.46 276.60L65.86 275.43L66.26 274.32L66.66 273.25L67.05 272.25L67.45 271.29L67.85 270.40L68.25 269.56L68.64 268.79L69.04 268.08L69.44 267.43L69.84 266.85L70.23 266.33L70.63 265.88L71.03 265.50L71.42 265.19L71.82 264.94L72.22 264.76L72.62 264.65L73.02 264.61L73.41 264.63L73.81 264.72L74.21 264.88L74.61 265.11L75.00 265.40L75.40 265.76L75.80 266.18L76.19 266.66L76.59 267.21L76.99 267.81L77.39 268.48L77.78 269.20L78.18 269.98L78.58 270.81L78.98 271.69L79.38 272.62L79.77 273.60L80.17 274.62L80.57 275.69L80.97 276.80L81.36 277.94L81.76 279.13L82.16 280.34L82.55 281.59L82.95 282.86L83.35 284.16L83.75 285.49L84.14 286.83L84.54 288.19L84.94 289.56L85.34 290.94L85.73 292.34L86.13 293.74L86.53 295.14L86.93 296.54L87.33 297.94L87.72 299.33L88.12 300.71L88.52 302.09L88.92 303.45L89.31 304.79L89.71 306.11L90.11 307.41L90.50 308.69L90.90 309.94L91.30 311.16L91.70 312.35L92.09 313.51L92.49 314.63L92.89 315.71L93.29 316.75L93.69 317.75L94.08 318.70L94.48 319.61L94.88 320.48L95.28 321.29L95.67 322.06L96.07 322.77L96.47 323.43L96.87 324.04L97.26 324.59L97.66 325.09L98.06 325.53L98.45 325.92L98.85 326.25L99.25 326.52L99.65 326.73L100.05 326.89L100.44 326.99L100.84 327.03L101.24 327.01L101.63 326.94L102.03 326.81L102.43 326.62L102.83 326.38L103.22 326.08L103.62 325.73L104.02 325.33L104.42 324.87L104.81 324.37L105.21 323.82L105.61 323.22L106.01 322.57L106.41 321.88L106.80 321.15L107.20 320.37L107.60 319.56L108.00 318.71L108.39 317.82L108.79 316.90L109.19 315.95L109.59 314.97L109.98 313.96L110.38 312.93L110.78 311.87L111.18 310.80L111.57 309.71L111.97 308.60L112.37 307.47L112.77 306.34L113.16 305.20L113.56 304.05L113.96 302.90L114.35 301.75L114.75 300.60L115.15 299.45L115.55 298.31L115.94 297.17L116.34 296.05L116.74 294.93L117.14 293.84L117.53 292.76L117.93 291.69L118.33 290.65L118.73 289.63L119.12 288.64L119.52 287.67L119.92 286.73L120.32 285.82L120.72 284.95L121.11 284.10L121.51 283.29L121.91 282.52L122.31 281.79L122.70 281.09L123.10 280.44L123.50 279.82L123.89 279.25L124.29 278.72L124.69 278.23L125.09 277.79L125.48 277.39L125.88 277.04L126.28 276.73L126.68 276.47L127.08 276.26L127.47 276.09L127.87 275.97L128.27 275.90L128.67 275.87L129.06 275.89L129.46 275.95L129.86 276.06L130.25 276.21L130.65 276.41L131.05 276.65L131.45 276.93L131.84 277.25L132.24 277.62L132.64 278.02L133.04 278.46L133.44 278.94L133.83 279.45L134.23 280.00L134.63 280.58L135.02 281.19L135.42 281.83L135.82 282.50L136.22 283.20L136.62 283.92L137.01 284.67L137.41 285.43L137.81 286.22L138.20 287.03L138.60 287.85L139.00 288.68L139.40 289.53L139.80 290.39L140.19 291.26L140.59 292.14L140.99 293.02L141.38 293.90L141.78 294.79L142.18 295.67L142.58 296.56L142.98 297.44L143.37 298.31L143.77 299.17L144.17 300.03L144.56 300.88L144.96 301.71L145.36 302.53L145.76 303.33L146.16 304.11L146.55 304.88L146.95 305.63L147.35 306.35L147.75 307.05L148.14 307.73L148.54 308.38L148.94 309.01L149.33 309.60L149.73 310.17L150.13 310.71L150.53 311.22L150.93 311.70L151.32 312.15L151.72 312.56L152.12 312.95L152.51 313.29L152.91 313.61L153.31 313.89L153.71 314.14L154.11 314.35L154.50 314.52L154.90 314.67L155.30 314.77L155.69 314.85L156.09 314.89L156.49 314.89L156.89 314.87L157.29 314.80L157.68 314.71L158.08 314.58L158.48 314.43L158.88 314.24L159.27 314.02L159.67 313.77L160.07 313.50L160.46 313.19L160.86 312.86L161.26 312.51L161.66 312.13L162.06 311.73L162.45 311.30L162.85 310.85L163.25 310.39L163.64 309.90L164.04 309.40L164.44 308.88L164.84 308.34L165.24 307.80L165.63 307.24L166.03 306.67L166.43 306.09L166.82 305.50L167.22 304.91L167.62 304.31L168.02 303.70L168.42 303.09L168.81 302.49L169.21 301.88L169.61 301.27L170.00 300.67L170.40 300.07L170.80 299.47L171.20 298.88L171.59 298.30L171.99 297.73L172.39 297.17L172.79 296.62L173.19 296.08L173.58 295.55L173.98 295.04L174.38 294.54L174.77 294.06L175.17 293.60L175.57 293.15L175.97 292.72L176.37 292.31L176.76 291.92L177.16 291.55L177.56 291.20L177.95 290.87L178.35 290.56L178.75 290.28L179.15 290.02L179.55 289.77L179.94 289.56L180.34 289.36L180.74 289.19L181.13 289.04L181.53 288.91L181.93 288.81L182.33 288.72L182.73 288.67L183.12 288.63L183.52 288.61L183.92 288.62L184.31 288.65L184.71 288.69L185.11 288.76L185.51 288.85L185.91 288.96L186.30 289.08L186.70 289.23L187.10 289.39L187.50 289.57L187.89 289.76L188.29 289.97L188.69 290.19L189.09 290.43L189.48 290.68L189.88 290.94L190.28 291.22L190.67 291.50L191.07 291.79L191.47 292.09L191.87 292.40L192.26 292.71L192.66 293.03L193.06 293.36L193.46 293.69L193.85 294.02L194.25 294.35L194.65 294.69L195.05 295.02L195.44 295.36L195.84 295.69L196.24 296.02L196.64 296.35L197.03 296.67L197.43 296.99L197.83 297.31L198.23 297.61L198.62 297.91L199.02 298.21L199.42 298.50L199.82 298.77L200.22 299.04L200.61 299.30L201.01 299.55L201.41 299.79L201.81 300.02L202.20 300.23L202.60 300.44L203.00 300.63L203.40 300.81L203.79 300.98L204.19 301.13L204.59 301.28L204.99 301.41L205.38 301.52L205.78 301.63L206.18 301.72L206.58 301.80L206.97 301.87L207.37 301.92L207.77 301.97L208.16 302.00L208.56 302.01L208.96 302.02L209.36 302.02L209.75 302.00L210.15 301.98L210.55 301.94L210.95 301.90L211.34 301.84L211.74 301.78L212.14 301.71L212.54 301.63L212.94 301.55L213.33 301.45L213.73 301.36L214.13 301.25L214.53 301.15L214.92 301.03L215.32 300.92L215.72 300.80L216.11 300.68L216.51 300.55L216.91 300.43L217.31 300.30L217.71 300.18L218.10 300.06L218.50 299.93L218.90 299.81L219.29 299.69L219.69 299.58L220.09 299.47L220.49 299.36L220.88 299.25L221.28 299.15L221.68 299.06L222.08 298.97L222.47 298.89L222.87 298.82L223.27 298.75L223.67 298.69L224.06 298.63L224.46 298.59L224.86 298.55L225.26 298.52L225.66 298.50L226.05 298.49L226.45 298.48L226.85 298.49L227.24 298.50L227.64 298.52L228.04 298.55L228.44 298.59L228.84 298.64L229.23 298.70L229.63 298.76L230.03 298.83L230.42 298.91L230.82 299.00L231.22 299.09L231.62 299.19L232.01 299.30L232.41 299.41L232.81 299.53L233.21 299.65L233.60 299.78L234.00 299.91L234.40 300.05L234.80 300.18L235.20 300.33L235.59 300.47L235.99 300.61L236.39 300.76L236.78 300.90L237.18 301.05L237.58 301.19L237.98 301.33L238.38 301.47L238.77 301.61L239.17 301.74L239.57 301.87L239.97 301.99L240.36 302.11L240.76 302.22L241.16 302.33L241.55 302.43L241.95 302.52L242.35 302.60L242.75 302.67L243.15 302.73L243.54 302.79L243.94 302.83L244.34 302.86L244.74 302.88L245.13 302.89L245.53 302.88L245.93 302.86L246.33 302.83L246.72 302.79L247.12 302.74L247.52 302.67L247.91 302.58L248.31 302.48L248.71 302.37L249.11 302.25L249.50 302.11L249.90 301.96L250.30 301.79L250.70 301.61L251.10 301.41L251.49 301.21L251.89 300.99L252.29 300.75L252.69 300.51L253.08 300.25L253.48 299.98L253.88 299.70L254.28 299.40L254.67 299.10L255.07 298.79L255.47 298.47L255.87 298.14L256.26 297.80L256.66 297.46L257.06 297.11L257.46 296.75L257.85 296.39L258.25 296.02L258.65 295.66L259.04 295.29L259.44 294.91L259.84 294.54L260.24 294.17L260.63 293.80L261.03 293.43L261.43 293.07L261.83 292.70L262.23 292.35L262.62 292.00L263.02 291.66L263.42 291.32L263.81 291.00L264.21 290.68L264.61 290.38L265.01 290.08L265.40 289.81L265.80 289.54L266.20 289.29L266.60 289.05L267.00 288.83L267.39 288.63L267.79 288.44L268.19 288.28L268.59 288.13L268.98 288.00L269.38 287.90L269.78 287.81L270.17 287.75L270.57 287.70L270.97 287.69L271.37 287.69L271.76 287.72L272.16 287.77L272.56 287.84L272.96 287.94L273.36 288.07L273.75 288.21L274.15 288.39L274.55 288.58L274.95 288.80L275.34 289.05L275.74 289.32L276.14 289.61L276.53 289.93L276.93 290.27L277.33 290.63L277.73 291.02L278.12 291.42L278.52 291.85L278.92 292.30L279.32 292.77L279.72 293.25L280.11 293.76L280.51 294.28L280.91 294.82L281.30 295.37L281.70 295.94L282.10 296.52L282.50 297.11L282.89 297.72L283.29 298.33L283.69 298.96L284.09 299.59L284.49 300.22L284.88 300.86L285.28 301.51L285.68 302.16L286.08 302.80L286.47 303.45L286.87 304.10L287.27 304.74L287.66 305.38L288.06 306.01L288.46 306.63L288.86 307.24L289.25 307.84L289.65 308.43L290.05 309.01L290.45 309.57L290.85 310.12L291.24 310.65L291.64 311.16L292.04 311.65L292.44 312.11L292.83 312.56L293.23 312.98L293.63 313.37L294.02 313.74L294.42 314.09L294.82 314.40L295.22 314.68L295.62 314.94L296.01 315.16L296.41 315.35L296.81 315.51L297.21 315.63L297.60 315.72L298.00 315.78L298.40 315.80L298.79 315.79L299.19 315.74L299.59 315.65L299.99 315.53L300.38 315.37L300.78 315.18L301.18 314.95L301.58 314.68L301.98 314.38L302.37 314.04L302.77 313.67L303.17 313.26L303.56 312.82L303.96 312.34L304.36 311.83L304.76 311.29L305.15 310.72L305.55 310.11L305.95 309.48L306.35 308.82L306.75 308.13L307.14 307.42L307.54 306.68L307.94 305.91L308.34 305.13L308.73 304.32L309.13 303.50L309.53 302.65L309.92 301.80L310.32 300.92L310.72 300.04L311.12 299.14L311.51 298.23L311.91 297.32L312.31 296.40L312.71 295.48L313.11 294.55L313.50 293.63L313.90 292.71L314.30 291.79L314.70 290.88L315.09 289.97L315.49 289.08L315.89 288.20L316.29 287.33L316.68 286.47L317.08 285.64L317.48 284.82L317.88 284.03L318.27 283.25L318.67 282.51L319.07 281.79L319.46 281.09L319.86 280.43L320.26 279.80L320.66 279.20L321.06 278.64L321.45 278.11L321.85 277.62L322.25 277.17L322.65 276.76L323.04 276.39L323.44 276.06L323.84 275.77L324.24 275.53L324.63 275.34L325.03 275.18L325.43 275.08L325.82 275.02L326.22 275.01L326.62 275.05L327.02 275.13L327.42 275.26L327.81 275.45L328.21 275.67L328.61 275.95L329.00 276.28L329.40 276.65L329.80 277.07L330.20 277.53L330.60 278.04L330.99 278.60L331.39 279.20L331.79 279.84L332.19 280.52L332.58 281.25L332.98 282.02L333.38 282.82L333.78 283.66L334.17 284.54L334.57 285.45L334.97 286.40L335.37 287.37L335.76 288.38L336.16 289.41L336.56 290.46L336.95 291.54L337.35 292.64L337.75 293.76L338.15 294.90L338.55 296.05L338.94 297.21L339.34 298.38L339.74 299.57L340.13 300.75L340.53 301.94L340.93 303.13L341.33 304.32L341.72 305.50L342.12 306.67L342.52 307.84L342.92 309.00L343.31 310.14L343.71 311.26L344.11 312.37L344.51 313.45L344.90 314.51L345.30 315.55L345.70 316.55L346.10 317.53L346.50 318.47L346.89 319.38L347.29 320.25L347.69 321.08L348.08 321.88L348.48 322.62L348.88 323.33L349.28 323.99L349.68 324.60L350.07 325.16L350.47 325.67L350.87 326.13L351.26 326.54L351.66 326.89L352.06 327.19L352.46 327.43L352.85 327.62L353.25 327.74L353.65 327.81L354.05 327.82L354.44 327.77L354.84 327.66L355.24 327.50L355.64 327.27L356.04 326.98L356.43 326.64L356.83 326.24L357.23 325.78L357.62 325.26L358.02 324.68L358.42 324.05L358.82 323.37L359.21 322.63L359.61 321.84L360.01 320.99L360.41 320.10L360.81 319.16L361.20 318.18L361.60 317.14L362.00 316.07L362.40 314.96L362.79 313.81L363.19 312.62L363.59 311.39L363.99 310.14L364.38 308.85L364.78 307.54L365.18 306.20L365.57 304.85L365.97 303.47L366.37 302.07L366.77 300.67L367.17 299.25L367.56 297.82L367.96 296.39L368.36 294.95L368.75 293.52L369.15 292.09L369.55 290.66L369.95 289.24L370.35 287.84L370.74 286.45L371.14 285.08L371.54 283.73L371.94 282.40L372.33 281.10L372.73 279.83L373.13 278.59L373.53 277.39L373.92 276.22L374.32 275.09L374.72 274.00L375.12 272.96L375.51 271.96L375.91 271.02L376.31 270.12L376.70 269.28L377.10 268.49L377.50 267.76L377.90 267.09L378.30 266.48L378.69 265.93L379.09 265.44L379.49 265.02L379.89 264.66L380.28 264.37L380.68 264.15L381.08 263.99L381.47 263.90L381.87 263.89L382.27 263.94L382.67 264.06L383.06 264.25L383.46 264.51L383.86 264.84L384.26 265.24L384.65 265.71L385.05 266.24L385.45 266.84L385.85 267.51L386.25 268.24L386.64 269.04L387.04 269.89L387.44 270.81L387.83 271.79L388.23 272.83L388.63 273.92L389.03 275.06L389.43 276.26L389.82 277.50L390.22 278.79L390.62 280.13L391.01 281.51L391.41 282.93L391.81 284.38L392.21 285.87L392.61 287.39L393.00 288.93L393.40 290.51L393.80 292.10L394.19 293.71L394.59 295.34L394.99 296.98L395.39 298.63L395.79 300.28L396.18 301.94L396.58 303.60L396.98 305.25L397.38 306.89L397.77 308.53L398.17 310.15L398.57 311.75L398.96 313.33L399.36 314.89L399.76 316.42L400.16 317.92L400.56 319.38L400.95 320.81L401.35 322.20L401.75 323.54L402.14 324.84L402.54 326.10L402.94 327.30L403.34 328.44L403.73 329.54L404.13 330.57L404.53 331.54L404.93 332.45L405.32 333.29L405.72 334.07L406.12 334.78L406.52 335.42L406.92 335.99L407.31 336.48L407.71 336.90L408.11 337.24L408.50 337.51L408.90 337.70L409.30 337.81L409.70 337.84L410.10 337.80L410.49 337.67L410.89 337.47L411.29 337.19L411.68 336.83L412.08 336.39L412.48 335.88L412.88 335.29L413.28 334.62L413.67 333.88L414.07 333.07L414.47 332.18L414.87 331.23L415.26 330.20L415.66 329.11L416.06 327.96L416.45 326.74L416.85 325.46L417.25 324.13L417.65 322.74L418.05 321.29L418.44 319.80L418.84 318.26L419.24 316.68L419.63 315.05L420.03 313.39L420.43 311.69L420.83 309.97L421.22 308.21L421.62 306.43L422.02 304.63L422.42 302.81L422.82 300.98L423.21 299.14L423.61 297.29L424.01 295.44L424.40 293.59L424.80 291.74L425.20 289.90L425.60 288.08L426.00 286.27L426.39 284.48L426.79 282.72L427.19 280.98L427.58 279.27L427.98 277.59L428.38 275.96L428.78 274.36L429.18 272.81L429.57 271.30L429.97 269.85L430.37 268.45L430.77 267.10L431.16 265.82L431.56 264.60L431.96 263.44L432.36 262.35L432.75 261.32L433.15 260.37L433.55 259.50L433.94 258.70L434.34 257.98L434.74 257.33L435.14 256.77L435.54 256.29L435.93 255.89L436.33 255.58L436.73 255.35L437.12 255.21L437.52 255.16L437.92 255.19L438.32 255.30L438.71 255.51L439.11 255.80L439.51 256.17L439.91 256.64L440.31 257.18L440.70 257.81L441.10 258.53L441.50 259.32L441.89 260.20L442.29 261.15L442.69 262.18L443.09 263.29L443.48 264.47L443.88 265.72L444.28 267.03L444.68 268.42L445.07 269.86L445.47 271.37L445.87 272.94L446.27 274.56L446.67 276.23L447.06 277.95L447.46 279.71L447.86 281.51L448.25 283.36L448.65 285.23L449.05 287.14L449.45 289.08L449.85 291.03L450.24 293.01L450.64 295.00L451.04 297.00L451.43 299.01L451.83 301.03L452.23 303.04L452.63 305.05L453.03 307.04L453.42 309.03L453.82 311.00L454.22 312.95L454.62 314.87L455.01 316.76L455.41 318.62L455.81 320.45L456.20 322.23L456.60 323.97L457.00 325.66L457.40 327.30L457.80 328.89L458.19 330.42L458.59 331.89L458.99 333.29L459.38 334.63L459.78 335.90L460.18 337.10L460.58 338.22L460.97 339.26L461.37 340.23L461.77 341.11L462.17 341.91L462.57 342.62L462.96 343.25L463.36 343.79L463.76 344.24L464.15 344.60L464.55 344.87L464.95 345.04L465.35 345.12L465.75 345.11L466.14 345.01L466.54 344.82L466.94 344.53L467.33 344.15L467.73 343.67L468.13 343.11L468.53 342.45L468.93 341.71L469.32 340.88L469.72 339.96L470.12 338.96L470.52 337.88L470.91 336.72L471.31 335.47L471.71 334.16L472.11 332.77L472.50 331.30L472.90 329.77L473.30 328.18L473.69 326.52L474.09 324.81L474.49 323.04L474.89 321.22L475.29 319.35L475.68 317.43L476.08 315.48L476.48 313.49L476.88 311.46L477.27 309.41L477.67 307.33L478.07 305.23L478.46 303.12L478.86 300.99L479.26 298.85L479.66 296.71L480.06 294.57L480.45 292.44L480.85 290.31L481.25 288.20L481.64 286.11L482.04 284.03L482.44 281.99L482.84 279.97L483.23 277.99L483.63 276.04L484.03 274.14L484.43 272.28L484.82 270.48L485.22 268.73L485.62 267.03L486.02 265.40L486.42 263.82L486.81 262.32L487.21 260.89L487.61 259.53L488.00 258.24L488.40 257.04L488.80 255.91L489.20 254.87L489.60 253.92L489.99 253.05L490.39 252.27L490.79 251.59L491.18 250.99L491.58 250.49L491.98 250.09L492.38 249.78L492.78 249.57L493.17 249.46L493.57 249.44L493.97 249.53L494.37 249.71L494.76 249.98L495.16 250.36L495.56 250.83L495.95 251.40L496.35 252.06L496.75 252.81L497.15 253.66L497.55 254.60L497.94 255.63L498.34 256.74L498.74 257.94L499.13 259.22L499.53 260.58L499.93 262.01L500.33 263.52L500.72 265.11L501.12 266.76L501.52 268.47L501.92 270.25L502.32 272.09L502.71 273.98L503.11 275.92L503.51 277.91L503.90 279.94L504.30 282.01L504.70 284.11L505.10 286.25L505.50 288.41L505.89 290.59L506.29 292.80L506.69 295.01L507.08 297.24L507.48 299.47L507.88 301.70L508.28 303.92L508.68 306.14L509.07 308.34L509.47 310.53L509.87 312.69L510.27 314.83L510.66 316.93L511.06 319.01L511.46 321.04L511.86 323.03L512.25 324.97L512.65 326.86L513.05 328.69L513.44 330.47L513.84 332.18L514.24 333.83L514.64 335.41L515.04 336.92L515.43 338.35L515.83 339.70L516.23 340.97L516.62 342.16L517.02 343.26L517.42 344.28L517.82 345.20L518.21 346.03L518.61 346.77L519.01 347.41L519.41 347.95L519.81 348.39L520.20 348.74L520.60 348.99L521.00 349.13L521.39 349.18L521.79 349.12L522.19 348.96L522.59 348.70L522.98 348.34L523.38 347.88L523.78 347.33L524.18 346.67L524.58 345.92L524.97 345.08L525.37 344.14L525.77 343.10L526.16 341.98L526.56 340.78L526.96 339.48L527.36 338.11L527.75 336.65L528.15 335.12L528.55 333.51L528.95 331.84L529.35 330.09L529.74 328.28L530.14 326.42L530.54 324.49L530.93 322.51L531.33 320.49L531.73 318.42L532.13 316.31L532.53 314.16L532.92 311.98L533.32 309.77L533.72 307.54L534.12 305.29L534.51 303.02L534.91 300.75L535.31 298.47L535.70 296.19L536.10 293.91L536.50 291.64" class="cg"/>
<path d="M59.50 298.51L59.90 296.08L60.30 293.67L60.69 291.27L61.09 288.90L61.49 286.56L61.88 284.25L62.28 281.98L62.68 279.75L63.08 277.56L63.48 275.43L63.87 273.35L64.27 271.33L64.67 269.37L65.06 267.47L65.46 265.65L65.86 263.90L66.26 262.22L66.66 260.63L67.05 259.11L67.45 257.68L67.85 256.34L68.25 255.09L68.64 253.93L69.04 252.87L69.44 251.90L69.84 251.02L70.23 250.25L70.63 249.57L71.03 249.00L71.42 248.52L71.82 248.15L72.22 247.88L72.62 247.72L73.02 247.65L73.41 247.69L73.81 247.83L74.21 248.07L74.61 248.41L75.00 248.85L75.40 249.38L75.80 250.01L76.19 250.74L76.59 251.56L76.99 252.47L77.39 253.46L77.78 254.54L78.18 255.71L78.58 256.95L78.98 258.28L79.38 259.67L79.77 261.14L80.17 262.68L80.57 264.28L80.97 265.94L81.36 267.66L81.76 269.44L82.16 271.26L82.55 273.13L82.95 275.04L83.35 276.99L83.75 278.97L84.14 280.99L84.54 283.02L84.94 285.08L85.34 287.16L85.73 289.25L86.13 291.35L86.53 293.45L86.93 295.55L87.33 297.65L87.72 299.74L88.12 301.82L88.52 303.88L88.92 305.91L89.31 307.93L89.71 309.91L90.11 311.86L90.50 313.78L90.90 315.66L91.30 317.49L91.70 319.27L92.09 321.00L92.49 322.68L92.89 324.31L93.29 325.87L93.69 327.37L94.08 328.80L94.48 330.17L94.88 331.46L95.28 332.68L95.67 333.83L96.07 334.90L96.47 335.89L96.87 336.80L97.26 337.63L97.66 338.38L98.06 339.04L98.45 339.62L98.85 340.12L99.25 340.52L99.65 340.84L100.05 341.08L100.44 341.22L100.84 341.28L101.24 341.26L101.63 341.15L102.03 340.95L102.43 340.67L102.83 340.31L103.22 339.87L103.62 339.34L104.02 338.74L104.42 338.06L104.81 337.30L105.21 336.47L105.61 335.57L106.01 334.60L106.41 333.56L106.80 332.46L107.20 331.30L107.60 330.08L108.00 328.80L108.39 327.47L108.79 326.09L109.19 324.67L109.59 323.20L109.98 321.69L110.38 320.14L110.78 318.56L111.18 316.94L111.57 315.30L111.97 313.64L112.37 311.96L112.77 310.26L113.16 308.55L113.56 306.82L113.96 305.10L114.35 303.37L114.75 301.64L115.15 299.92L115.55 298.20L115.94 296.50L116.34 294.81L116.74 293.15L117.14 291.50L117.53 289.88L117.93 288.28L118.33 286.72L118.73 285.19L119.12 283.70L119.52 282.25L119.92 280.84L120.32 279.48L120.72 278.17L121.11 276.90L121.51 275.69L121.91 274.53L122.31 273.43L122.70 272.38L123.10 271.40L123.50 270.48L123.89 269.62L124.29 268.82L124.69 268.09L125.09 267.43L125.48 266.83L125.88 266.30L126.28 265.85L126.68 265.46L127.08 265.14L127.47 264.89L127.87 264.70L128.27 264.59L128.67 264.55L129.06 264.58L129.46 264.67L129.86 264.83L130.25 265.06L130.65 265.36L131.05 265.72L131.45 266.14L131.84 266.62L132.24 267.17L132.64 267.77L133.04 268.43L133.44 269.15L133.83 269.92L134.23 270.74L134.63 271.61L135.02 272.53L135.42 273.49L135.82 274.50L136.22 275.54L136.62 276.63L137.01 277.74L137.41 278.90L137.81 280.08L138.20 281.29L138.60 282.52L139.00 283.77L139.40 285.05L139.80 286.34L140.19 287.64L140.59 288.95L140.99 290.27L141.38 291.60L141.78 292.93L142.18 294.26L142.58 295.58L142.98 296.90L143.37 298.21L143.77 299.51L144.17 300.79L144.56 302.06L144.96 303.31L145.36 304.53L145.76 305.74L146.16 306.92L146.55 308.07L146.95 309.18L147.35 310.27L147.75 311.32L148.14 312.34L148.54 313.32L148.94 314.25L149.33 315.15L149.73 316.01L150.13 316.82L150.53 317.58L150.93 318.30L151.32 318.97L151.72 319.59L152.12 320.16L152.51 320.69L152.91 321.16L153.31 321.58L153.71 321.95L154.11 322.27L154.50 322.53L154.90 322.75L155.30 322.91L155.69 323.02L156.09 323.08L156.49 323.09L156.89 323.04L157.29 322.95L157.68 322.81L158.08 322.62L158.48 322.39L158.88 322.10L159.27 321.78L159.67 321.41L160.07 320.99L160.46 320.54L160.86 320.04L161.26 319.51L161.66 318.94L162.06 318.33L162.45 317.69L162.85 317.02L163.25 316.32L163.64 315.60L164.04 314.84L164.44 314.06L164.84 313.26L165.24 312.44L165.63 311.60L166.03 310.75L166.43 309.88L166.82 308.99L167.22 308.10L167.62 307.20L168.02 306.30L168.42 305.39L168.81 304.47L169.21 303.56L169.61 302.65L170.00 301.75L170.40 300.85L170.80 299.95L171.20 299.07L171.59 298.20L171.99 297.34L172.39 296.50L172.79 295.67L173.19 294.86L173.58 294.07L173.98 293.31L174.38 292.56L174.77 291.84L175.17 291.14L175.57 290.47L175.97 289.83L176.37 289.21L176.76 288.63L177.16 288.07L177.56 287.54L177.95 287.05L178.35 286.59L178.75 286.16L179.15 285.77L179.55 285.41L179.94 285.08L180.34 284.79L180.74 284.53L181.13 284.30L181.53 284.11L181.93 283.95L182.33 283.83L182.73 283.74L183.12 283.69L183.52 283.66L183.92 283.67L184.31 283.71L184.71 283.79L185.11 283.89L185.51 284.02L185.91 284.18L186.30 284.37L186.70 284.59L187.10 284.83L187.50 285.10L187.89 285.39L188.29 285.70L188.69 286.04L189.09 286.39L189.48 286.77L189.88 287.16L190.28 287.57L190.67 287.99L191.07 288.43L191.47 288.88L191.87 289.34L192.26 289.81L192.66 290.29L193.06 290.78L193.46 291.27L193.85 291.77L194.25 292.27L194.65 292.77L195.05 293.28L195.44 293.78L195.84 294.28L196.24 294.77L196.64 295.27L197.03 295.75L197.43 296.23L197.83 296.70L198.23 297.16L198.62 297.62L199.02 298.06L199.42 298.49L199.82 298.90L200.22 299.31L200.61 299.70L201.01 300.07L201.41 300.43L201.81 300.77L202.20 301.09L202.60 301.40L203.00 301.69L203.40 301.96L203.79 302.21L204.19 302.44L204.59 302.66L204.99 302.86L205.38 303.03L205.78 303.19L206.18 303.33L206.58 303.45L206.97 303.55L207.37 303.63L207.77 303.69L208.16 303.74L208.56 303.77L208.96 303.78L209.36 303.77L209.75 303.75L210.15 303.71L210.55 303.66L210.95 303.59L211.34 303.51L211.74 303.42L212.14 303.31L212.54 303.19L212.94 303.06L213.33 302.93L213.73 302.78L214.13 302.62L214.53 302.46L214.92 302.29L215.32 302.12L215.72 301.94L216.11 301.76L216.51 301.58L216.91 301.39L217.31 301.20L217.71 301.01L218.10 300.83L218.50 300.64L218.90 300.46L219.29 300.28L219.69 300.11L220.09 299.94L220.49 299.78L220.88 299.62L221.28 299.48L221.68 299.34L222.08 299.20L222.47 299.08L222.87 298.97L223.27 298.87L223.67 298.78L224.06 298.70L224.46 298.63L224.86 298.57L225.26 298.53L225.66 298.49L226.05 298.48L226.45 298.47L226.85 298.48L227.24 298.50L227.64 298.53L228.04 298.58L228.44 298.63L228.84 298.70L229.23 298.79L229.63 298.88L230.03 298.99L230.42 299.11L230.82 299.24L231.22 299.38L231.62 299.53L232.01 299.69L232.41 299.86L232.81 300.04L233.21 300.22L233.60 300.41L234.00 300.61L234.40 300.81L234.80 301.02L235.20 301.23L235.59 301.45L235.99 301.66L236.39 301.88L236.78 302.10L237.18 302.32L237.58 302.53L237.98 302.75L238.38 302.95L238.77 303.16L239.17 303.36L239.57 303.55L239.97 303.74L240.36 303.91L240.76 304.08L241.16 304.24L241.55 304.39L241.95 304.52L242.35 304.64L242.75 304.75L243.15 304.84L243.54 304.92L243.94 304.99L244.34 305.03L244.74 305.06L245.13 305.07L245.53 305.07L245.93 305.04L246.33 305.00L246.72 304.93L247.12 304.85L247.52 304.74L247.91 304.62L248.31 304.47L248.71 304.31L249.11 304.12L249.50 303.91L249.90 303.68L250.30 303.43L250.70 303.16L251.10 302.87L251.49 302.55L251.89 302.22L252.29 301.87L252.69 301.50L253.08 301.12L253.48 300.71L253.88 300.29L254.28 299.85L254.67 299.40L255.07 298.93L255.47 298.45L255.87 297.95L256.26 297.45L256.66 296.93L257.06 296.41L257.46 295.87L257.85 295.33L258.25 294.78L258.65 294.23L259.04 293.67L259.44 293.12L259.84 292.56L260.24 292.00L260.63 291.44L261.03 290.89L261.43 290.34L261.83 289.80L262.23 289.27L262.62 288.74L263.02 288.23L263.42 287.73L263.81 287.24L264.21 286.77L264.61 286.31L265.01 285.87L265.40 285.45L265.80 285.05L266.20 284.68L266.60 284.32L267.00 283.99L267.39 283.69L267.79 283.41L268.19 283.16L268.59 282.94L268.98 282.75L269.38 282.59L269.78 282.46L270.17 282.36L270.57 282.30L270.97 282.27L271.37 282.28L271.76 282.32L272.16 282.40L272.56 282.51L272.96 282.66L273.36 282.84L273.75 283.06L274.15 283.32L274.55 283.62L274.95 283.95L275.34 284.32L275.74 284.72L276.14 285.16L276.53 285.64L276.93 286.15L277.33 286.69L277.73 287.27L278.12 287.88L278.52 288.52L278.92 289.19L279.32 289.89L279.72 290.62L280.11 291.38L280.51 292.16L280.91 292.97L281.30 293.80L281.70 294.65L282.10 295.53L282.50 296.42L282.89 297.32L283.29 298.24L283.69 299.18L284.09 300.13L284.49 301.08L284.88 302.04L285.28 303.01L285.68 303.98L286.08 304.95L286.47 305.92L286.87 306.89L287.27 307.85L287.66 308.81L288.06 309.75L288.46 310.69L288.86 311.61L289.25 312.51L289.65 313.40L290.05 314.26L290.45 315.11L290.85 315.92L291.24 316.72L291.64 317.48L292.04 318.21L292.44 318.92L292.83 319.58L293.23 320.21L293.63 320.81L294.02 321.36L294.42 321.87L294.82 322.34L295.22 322.77L295.62 323.15L296.01 323.48L296.41 323.77L296.81 324.01L297.21 324.20L297.60 324.33L298.00 324.42L298.40 324.45L298.79 324.43L299.19 324.35L299.59 324.22L299.99 324.04L300.38 323.80L300.78 323.51L301.18 323.17L301.58 322.77L301.98 322.31L302.37 321.80L302.77 321.24L303.17 320.63L303.56 319.97L303.96 319.25L304.36 318.49L304.76 317.68L305.15 316.82L305.55 315.91L305.95 314.96L306.35 313.97L306.75 312.94L307.14 311.87L307.54 310.76L307.94 309.61L308.34 308.44L308.73 307.23L309.13 305.99L309.53 304.73L309.92 303.44L310.32 302.13L310.72 300.80L311.12 299.45L311.51 298.10L311.91 296.73L312.31 295.35L312.71 293.96L313.11 292.58L313.50 291.19L313.90 289.81L314.30 288.43L314.70 287.06L315.09 285.71L315.49 284.36L315.89 283.04L316.29 281.74L316.68 280.46L317.08 279.20L317.48 277.98L317.88 276.79L318.27 275.63L318.67 274.51L319.07 273.42L319.46 272.39L319.86 271.39L320.26 270.44L320.66 269.55L321.06 268.70L321.45 267.91L321.85 267.18L322.25 266.50L322.65 265.88L323.04 265.33L323.44 264.83L323.84 264.40L324.24 264.04L324.63 263.75L325.03 263.52L325.43 263.36L325.82 263.28L326.22 263.26L326.62 263.32L327.02 263.44L327.42 263.64L327.81 263.91L328.21 264.26L328.61 264.67L329.00 265.16L329.40 265.72L329.80 266.34L330.20 267.04L330.60 267.81L330.99 268.64L331.39 269.54L331.79 270.50L332.19 271.53L332.58 272.62L332.98 273.77L333.38 274.98L333.78 276.24L334.17 277.56L334.57 278.92L334.97 280.34L335.37 281.80L335.76 283.31L336.16 284.86L336.56 286.44L336.95 288.06L337.35 289.71L337.75 291.39L338.15 293.09L338.55 294.82L338.94 296.56L339.34 298.32L339.74 300.09L340.13 301.87L340.53 303.65L340.93 305.44L341.33 307.22L341.72 308.99L342.12 310.76L342.52 312.51L342.92 314.24L343.31 315.95L343.71 317.64L344.11 319.30L344.51 320.92L344.90 322.51L345.30 324.06L345.70 325.57L346.10 327.04L346.50 328.45L346.89 329.81L347.29 331.12L347.69 332.37L348.08 333.56L348.48 334.68L348.88 335.74L349.28 336.73L349.68 337.65L350.07 338.49L350.47 339.26L350.87 339.95L351.26 340.56L351.66 341.09L352.06 341.53L352.46 341.89L352.85 342.17L353.25 342.36L353.65 342.46L354.05 342.48L354.44 342.40L354.84 342.24L355.24 341.99L355.64 341.65L356.04 341.22L356.43 340.70L356.83 340.10L357.23 339.41L357.62 338.63L358.02 337.77L358.42 336.82L358.82 335.79L359.21 334.68L359.61 333.50L360.01 332.23L360.41 330.90L360.81 329.49L361.20 328.01L361.60 326.46L362.00 324.85L362.40 323.18L362.79 321.45L363.19 319.67L363.59 317.83L363.99 315.95L364.38 314.02L364.78 312.06L365.18 310.05L365.57 308.01L365.97 305.95L366.37 303.86L366.77 301.74L367.17 299.62L367.56 297.48L367.96 295.33L368.36 293.17L368.75 291.02L369.15 288.87L369.55 286.74L369.95 284.61L370.35 282.51L370.74 280.42L371.14 278.37L371.54 276.34L371.94 274.35L372.33 272.40L372.73 270.49L373.13 268.63L373.53 266.82L373.92 265.07L374.32 263.38L374.72 261.75L375.12 260.19L375.51 258.69L375.91 257.27L376.31 255.93L376.70 254.67L377.10 253.48L377.50 252.39L377.90 251.38L378.30 250.46L378.69 249.64L379.09 248.91L379.49 248.27L379.89 247.74L380.28 247.30L380.68 246.97L381.08 246.73L381.47 246.60L381.87 246.58L382.27 246.65L382.67 246.83L383.06 247.12L383.46 247.51L383.86 248.01L384.26 248.60L384.65 249.30L385.05 250.11L385.45 251.01L385.85 252.01L386.25 253.11L386.64 254.30L387.04 255.59L387.44 256.97L387.83 258.43L388.23 259.99L388.63 261.62L389.03 263.34L389.43 265.13L389.82 267.00L390.22 268.94L390.62 270.94L391.01 273.01L391.41 275.13L391.81 277.32L392.21 279.55L392.61 281.83L393.00 284.15L393.40 286.50L393.80 288.89L394.19 291.31L394.59 293.75L394.99 296.21L395.39 298.69L395.79 301.17L396.18 303.66L396.58 306.14L396.98 308.62L397.38 311.09L397.77 313.54L398.17 315.97L398.57 318.37L398.96 320.74L399.36 323.08L399.76 325.37L400.16 327.62L400.56 329.82L400.95 331.96L401.35 334.04L401.75 336.06L402.14 338.01L402.54 339.89L402.94 341.69L403.34 343.41L403.73 345.05L404.13 346.60L404.53 348.06L404.93 349.42L405.32 350.69L405.72 351.85L406.12 352.92L406.52 353.87L406.92 354.72L407.31 355.46L407.71 356.09L408.11 356.61L408.50 357.01L408.90 357.29L409.30 357.46L409.70 357.51L410.10 357.44L410.49 357.26L410.89 356.95L411.29 356.53L411.68 355.99L412.08 355.33L412.48 354.56L412.88 353.68L413.28 352.68L413.67 351.56L414.07 350.34L414.47 349.02L414.87 347.58L415.26 346.05L415.66 344.41L416.06 342.68L416.45 340.85L416.85 338.94L417.25 336.93L417.65 334.85L418.05 332.68L418.44 330.45L418.84 328.14L419.24 325.76L419.63 323.32L420.03 320.83L420.43 318.29L420.83 315.69L421.22 313.06L421.62 310.39L422.02 307.69L422.42 304.96L422.82 302.21L423.21 299.45L423.61 296.68L424.01 293.90L424.40 291.12L424.80 288.36L425.20 285.60L425.60 282.86L426.00 280.15L426.39 277.47L426.79 274.82L427.19 272.21L427.58 269.65L427.98 267.14L428.38 264.68L428.78 262.28L429.18 259.96L429.57 257.70L429.97 255.52L430.37 253.42L430.77 251.40L431.16 249.47L431.56 247.64L431.96 245.90L432.36 244.26L432.75 242.73L433.15 241.31L433.55 239.99L433.94 238.79L434.34 237.71L434.74 236.74L435.14 235.90L435.54 235.18L435.93 234.59L436.33 234.12L436.73 233.77L437.12 233.56L437.52 233.48L437.92 233.52L438.32 233.70L438.71 234.01L439.11 234.44L439.51 235.01L439.91 235.70L440.31 236.52L440.70 237.47L441.10 238.54L441.50 239.73L441.89 241.04L442.29 242.47L442.69 244.02L443.09 245.68L443.48 247.45L443.88 249.32L444.28 251.30L444.68 253.37L445.07 255.54L445.47 257.80L445.87 260.15L446.27 262.58L446.67 265.09L447.06 267.66L447.46 270.31L447.86 273.02L448.25 275.78L448.65 278.60L449.05 281.46L449.45 284.36L449.85 287.30L450.24 290.26L450.64 293.25L451.04 296.25L451.43 299.27L451.83 302.29L452.23 305.30L452.63 308.31L453.03 311.31L453.42 314.29L453.82 317.24L454.22 320.16L454.62 323.05L455.01 325.89L455.41 328.68L455.81 331.41L456.20 334.09L456.60 336.70L457.00 339.24L457.40 341.70L457.80 344.08L458.19 346.38L458.59 348.58L458.99 350.69L459.38 352.69L459.78 354.60L460.18 356.39L460.58 358.07L460.97 359.64L461.37 361.08L461.77 362.41L462.17 363.61L462.57 364.68L462.96 365.62L463.36 366.43L463.76 367.10L464.15 367.64L464.55 368.04L464.95 368.31L465.35 368.43L465.75 368.42L466.14 368.26L466.54 367.97L466.94 367.53L467.33 366.96L467.73 366.25L468.13 365.41L468.53 364.43L468.93 363.31L469.32 362.07L469.72 360.69L470.12 359.19L470.52 357.56L470.91 355.82L471.31 353.96L471.71 351.98L472.11 349.89L472.50 347.70L472.90 345.41L473.30 343.02L473.69 340.53L474.09 337.96L474.49 335.30L474.89 332.57L475.29 329.77L475.68 326.90L476.08 323.96L476.48 320.98L476.88 317.94L477.27 314.86L477.67 311.74L478.07 308.59L478.46 305.42L478.86 302.23L479.26 299.02L479.66 295.81L480.06 292.60L480.45 289.40L480.85 286.21L481.25 283.05L481.64 279.90L482.04 276.79L482.44 273.72L482.84 270.70L483.23 267.73L483.63 264.81L484.03 261.96L484.43 259.17L484.82 256.46L485.22 253.83L485.62 251.29L486.02 248.84L486.42 246.48L486.81 244.23L487.21 242.08L487.61 240.04L488.00 238.11L488.40 236.30L488.80 234.61L489.20 233.05L489.60 231.62L489.99 230.32L490.39 229.16L490.79 228.13L491.18 227.24L491.58 226.49L491.98 225.88L492.38 225.42L492.78 225.10L493.17 224.93L493.57 224.91L493.97 225.03L494.37 225.30L494.76 225.72L495.16 226.28L495.56 226.99L495.95 227.84L496.35 228.83L496.75 229.97L497.15 231.24L497.55 232.64L497.94 234.18L498.34 235.85L498.74 237.65L499.13 239.57L499.53 241.61L499.93 243.76L500.33 246.03L500.72 248.40L501.12 250.88L501.52 253.45L501.92 256.12L502.32 258.87L502.71 261.71L503.11 264.62L503.51 267.60L503.90 270.65L504.30 273.76L504.70 276.91L505.10 280.12L505.50 283.36L505.89 286.64L506.29 289.94L506.69 293.26L507.08 296.60L507.48 299.95L507.88 303.29L508.28 306.63L508.68 309.95L509.07 313.26L509.47 316.54L509.87 319.78L510.27 322.99L510.66 326.15L511.06 329.25L511.46 332.30L511.86 335.28L512.25 338.20L512.65 341.03L513.05 343.78L513.44 346.45L513.84 349.02L514.24 351.49L514.64 353.86L515.04 356.12L515.43 358.27L515.83 360.30L516.23 362.21L516.62 363.99L517.02 365.64L517.42 367.16L517.82 368.54L518.21 369.79L518.61 370.89L519.01 371.85L519.41 372.67L519.81 373.34L520.20 373.85L520.60 374.22L521.00 374.44L521.39 374.51L521.79 374.42L522.19 374.19L522.59 373.80L522.98 373.26L523.38 372.57L523.78 371.74L524.18 370.75L524.58 369.63L524.97 368.36L525.37 366.95L525.77 365.40L526.16 363.72L526.56 361.91L526.96 359.97L527.36 357.90L527.75 355.72L528.15 353.42L528.55 351.01L528.95 348.50L529.35 345.88L529.74 343.17L530.14 340.37L530.54 337.48L530.93 334.52L531.33 331.48L531.73 328.37L532.13 325.20L532.53 321.98L532.92 318.71L533.32 315.40L533.72 312.05L534.12 308.68L534.51 305.28L534.91 301.87L535.31 298.45L535.70 295.02L536.10 291.61L536.50 288.21" class="cb"/>
</g></g>
<text transform="translate(18.40 304.50) rotate(-90)" class="yl" text-anchor="middle"><tspan class="gk">&#948;</tspan><tspan class="it">v</tspan><tspan class="it sub" dy="8.60">N</tspan><tspan dy="-8.60">(m/s)</tspan></text>
<rect x="167.5" y="196.5" width="133.0" height="66.0" class="lg"/>
<line x1="171.5" y1="208.45" x2="216" y2="208.45" class="cr lgl"/>
<text transform="translate(218.6 215.6) scale(0.95 1)" class="lt" letter-spacing="0.3">Ba=100</text>
<text x="278.8" y="215.6" class="lt mu">&#956;</text>
<text transform="translate(288.5 215.6) scale(0.95 1)" class="lt">g</text>
<line x1="171.5" y1="230.55" x2="216" y2="230.55" class="cg lgl"/>
<text transform="translate(218.6 236.8) scale(0.95 1)" class="lt" letter-spacing="0.3">Ba=200</text>
<text x="278.8" y="236.8" class="lt mu">&#956;</text>
<text transform="translate(288.5 236.8) scale(0.95 1)" class="lt">g</text>
<line x1="171.5" y1="251.40" x2="216" y2="251.40" class="cb lgl"/>
<text transform="translate(218.6 257.9) scale(0.95 1)" class="lt" letter-spacing="0.3">Ba=300</text>
<text x="278.8" y="257.9" class="lt mu">&#956;</text>
<text transform="translate(288.5 257.9) scale(0.95 1)" class="lt">g</text>
<text x="298.3" y="431.5" class="xl" text-anchor="middle">Time(h)</text>
</svg></body></html>
